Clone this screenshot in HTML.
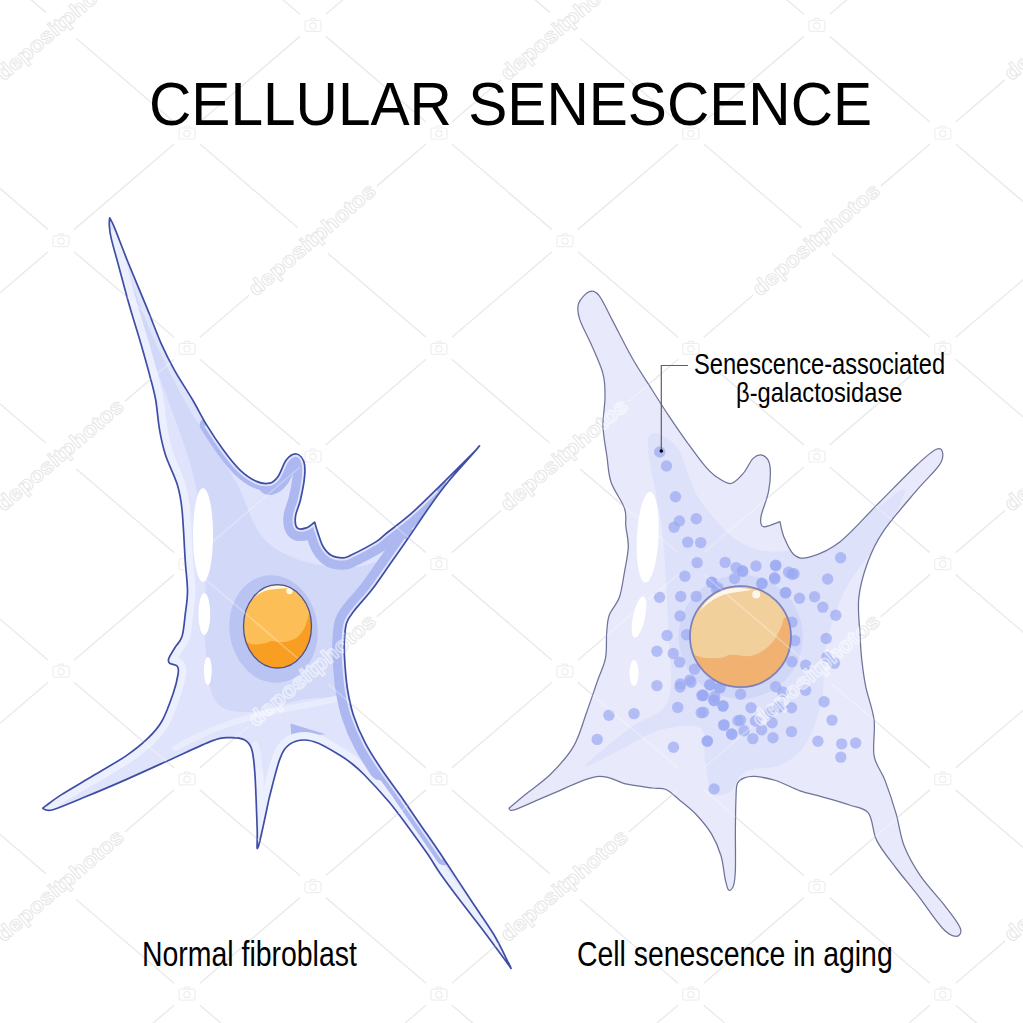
<!DOCTYPE html>
<html><head><meta charset="utf-8"><style>
html,body{margin:0;padding:0;background:#fff;}
body{width:1023px;height:1023px;position:relative;overflow:hidden;font-family:"Liberation Sans",sans-serif;}
.t{position:absolute;white-space:nowrap;color:#000;line-height:1;transform-origin:0 0;}
svg{position:absolute;left:0;top:0;}
</style></head><body>
<svg width="1023" height="1023" viewBox="0 0 1023 1023">
<defs>
<clipPath id="c1"><path d="M109.7,217.8 C110.6,219.6 111.9,221.2 114.9,228.6 C117.9,236.0 122.7,249.0 127.9,262.0 C133.2,275.0 140.8,293.0 146.4,306.6 C152.0,320.2 156.7,333.3 161.3,343.8 C166.0,354.3 169.1,360.4 174.3,369.8 C179.5,379.2 187.3,390.8 192.7,400.0 C198.1,409.2 201.5,416.6 206.6,424.9 C211.7,433.2 217.7,442.3 223.2,449.8 C228.7,457.3 234.2,464.5 239.8,469.8 C245.4,475.1 251.5,479.2 256.5,481.4 C261.5,483.6 266.1,483.9 269.7,483.1 C273.3,482.3 275.3,480.3 278.1,476.4 C280.9,472.5 283.4,463.5 286.4,459.8 C289.4,456.1 293.4,453.7 296.3,454.0 C299.2,454.3 302.4,457.8 303.8,461.5 C305.2,465.2 305.2,470.0 304.6,476.4 C304.1,482.8 302.0,493.1 300.5,499.7 C299.0,506.3 296.1,511.6 295.5,516.3 C294.9,521.0 295.4,526.0 297.2,527.9 C299.0,529.8 303.4,528.9 306.3,527.9 C309.2,526.9 313.2,523.1 314.6,522.1 C315.2,523.9 316.5,528.9 317.9,532.9 C319.3,536.9 320.7,542.5 322.9,546.2 C325.1,549.9 327.9,553.4 331.2,555.3 C334.5,557.2 339.4,557.8 342.8,557.8 C346.2,557.8 345.7,557.7 351.3,555.0 C356.9,552.3 370.6,545.1 376.3,541.6 C382.0,538.1 379.6,538.8 385.4,534.2 C391.1,529.6 402.3,521.3 410.8,513.9 C419.3,506.5 427.7,498.0 436.2,489.7 C444.7,481.4 455.3,470.6 461.7,464.3 C468.1,458.0 471.4,454.7 474.4,451.6 C477.4,448.5 478.6,446.8 479.5,445.9 C477.6,448.1 473.1,453.4 468.0,459.2 C462.9,465.0 455.4,473.0 449.0,480.8 C442.6,488.6 436.9,496.3 429.9,506.2 C422.9,516.1 413.5,530.5 406.9,540.0 C400.3,549.5 396.3,555.1 390.4,563.5 C384.5,571.9 377.6,582.3 371.6,590.1 C365.6,597.9 358.6,604.9 354.4,610.4 C350.2,615.9 348.3,617.7 346.6,622.9 C344.9,628.1 344.6,634.7 344.3,641.7 C344.0,648.8 344.4,657.2 345.0,665.2 C345.6,673.2 346.2,681.6 347.6,690.0 C349.0,698.4 350.6,706.6 353.5,715.4 C356.4,724.2 360.6,734.0 365.2,742.8 C369.8,751.6 374.9,759.4 380.8,768.2 C386.7,777.0 393.5,785.8 400.4,795.6 C407.2,805.4 414.7,816.5 421.9,826.9 C429.1,837.3 435.0,845.6 443.4,858.2 C451.8,870.8 463.9,889.6 472.3,902.3 C480.7,915.0 487.7,924.3 493.8,934.5 C499.9,944.7 505.9,957.9 508.8,963.5 C511.7,969.1 510.6,967.6 511.0,968.4 C509.9,966.9 509.2,965.6 504.5,959.2 C499.8,952.8 490.2,939.7 483.0,930.2 C475.8,920.7 468.7,911.8 461.5,902.3 C454.3,892.8 445.6,881.2 440.0,873.2 C434.4,865.2 433.1,862.0 427.8,854.3 C422.5,846.6 414.7,835.7 408.2,826.9 C401.7,818.1 396.1,810.3 388.7,801.5 C381.2,792.7 369.7,780.3 363.5,774.0 C357.3,767.7 355.6,766.6 351.7,763.5 C347.8,760.4 345.5,758.6 340.0,755.3 C334.5,752.0 324.9,746.0 318.9,743.5 C312.9,741.0 309.1,739.9 304.2,740.0 C299.3,740.1 293.6,741.2 289.5,744.4 C285.4,747.6 283.2,750.1 279.8,759.1 C276.4,768.1 270.9,791.9 269.1,798.4 C267.3,806.5 260.1,842.2 258.1,847.3 C256.1,852.4 257.7,841.0 257.2,829.0 C256.7,817.0 255.9,788.5 255.0,775.3 C254.1,762.0 253.6,755.4 251.8,749.5 C250.0,743.6 248.1,741.8 244.3,739.8 C240.5,737.8 234.6,737.4 229.2,737.6 C223.8,737.8 222.0,737.1 212.0,740.9 C202.0,744.7 183.3,753.8 169.0,760.2 C154.7,766.7 140.3,773.3 126.0,779.6 C111.7,785.9 95.2,792.8 83.0,797.8 C70.8,802.8 59.5,807.9 52.9,809.7 C46.3,811.5 44.3,809.3 43.2,808.6 C42.1,807.9 43.5,807.7 46.5,805.4 C49.5,803.1 53.6,799.6 61.5,794.6 C69.4,789.6 83.0,781.8 93.8,775.3 C104.5,768.8 117.0,762.0 126.0,755.9 C134.9,749.8 141.5,744.5 147.5,738.7 C153.5,732.9 157.7,728.6 162.0,721.0 C166.3,713.4 170.7,700.6 173.4,692.8 C176.1,685.0 177.4,678.4 178.1,674.0 C178.8,669.6 178.7,668.1 177.3,666.3 C175.9,664.5 170.9,664.4 169.5,663.1 C168.1,661.8 167.9,661.0 168.8,658.4 C169.7,655.8 172.8,651.1 175.0,647.5 C177.2,643.9 180.3,642.1 182.0,636.6 C183.7,631.1 184.3,622.2 185.2,614.7 C186.1,607.2 187.5,600.4 187.5,591.3 C187.5,582.2 186.1,573.6 185.2,560.0 C184.3,546.4 183.3,522.1 182.0,509.5 C180.7,496.9 179.9,493.2 177.1,484.1 C174.3,475.0 168.3,463.8 165.4,454.7 C162.5,445.6 161.1,438.4 159.5,429.3 C157.9,420.2 157.2,408.7 155.7,400.0 C154.1,391.3 152.7,386.6 150.2,377.2 C147.7,367.8 144.3,355.6 140.9,343.8 C137.5,332.0 133.4,319.6 129.7,306.6 C126.0,293.6 121.7,277.1 118.6,265.7 C115.5,254.2 112.6,244.7 111.1,237.9 C109.5,231.1 109.5,228.2 109.3,224.9 C109.1,221.6 109.6,219.0 109.7,217.8Z"/></clipPath>
<clipPath id="c2"><path d="M589.3,291.7 C592.7,290.4 595.2,290.7 599.1,295.6 C603.0,300.5 607.3,310.7 612.8,321.1 C618.3,331.5 625.8,346.8 632.3,358.2 C638.8,369.6 645.7,379.7 651.9,389.5 C658.1,399.3 663.6,408.1 669.5,416.9 C675.4,425.7 681.2,434.2 687.1,442.3 C693.0,450.4 700.0,460.1 704.7,465.7 C709.4,471.3 710.9,472.9 715.2,475.9 C719.5,478.9 725.8,483.9 730.5,483.5 C735.2,483.1 739.4,477.6 743.2,473.4 C747.0,469.2 750.0,461.1 753.4,458.1 C756.8,455.1 760.8,454.3 763.5,455.6 C766.2,456.9 769.0,459.8 769.9,465.7 C770.8,471.6 770.1,482.7 768.6,491.2 C767.1,499.7 761.9,510.7 761.0,516.6 C760.1,522.5 760.3,525.9 763.5,526.7 C766.7,527.6 777.2,522.5 780.0,521.7 C780.6,524.2 781.6,531.4 783.9,536.9 C786.2,542.4 789.8,551.3 794.0,554.7 C798.2,558.1 801.7,559.3 809.3,557.2 C816.9,555.1 828.4,550.9 839.8,542.0 C851.2,533.1 865.2,516.6 877.9,503.9 C890.6,491.2 906.3,474.8 916.0,465.7 C925.7,456.6 931.8,451.3 936.3,449.2 C940.8,447.1 942.3,450.2 942.7,453.0 C943.1,455.8 943.4,459.3 938.9,465.7 C934.4,472.1 925.3,480.2 916.0,491.2 C906.7,502.2 891.0,519.9 883.0,531.8 C875.0,543.6 871.7,551.3 867.7,562.3 C863.7,573.3 860.1,585.6 858.8,597.9 C857.5,610.2 859.6,625.6 860.1,636.0 C860.6,646.4 860.8,651.4 861.8,660.0 C862.8,668.6 863.8,677.4 865.9,687.4 C868.0,697.4 872.7,708.8 874.1,720.2 C875.5,731.6 872.3,745.8 874.1,755.8 C875.9,765.8 881.4,770.8 885.0,780.4 C888.6,790.0 892.8,802.3 896.0,813.3 C899.2,824.2 900.1,835.6 904.2,846.1 C908.3,856.6 913.8,866.2 920.6,876.2 C927.5,886.2 938.7,897.6 945.3,906.3 C951.9,915.0 958.5,923.2 960.3,928.2 C962.1,933.2 959.2,936.4 956.2,936.4 C953.2,936.4 948.9,935.0 942.5,928.2 C936.1,921.4 925.6,905.4 917.9,895.4 C910.1,885.4 902.9,877.1 896.0,868.0 C889.1,858.9 881.4,849.7 876.8,840.6 C872.2,831.5 873.1,819.2 868.6,813.3 C864.1,807.4 857.2,807.8 849.5,805.0 C841.8,802.2 830.4,799.2 822.1,796.8 C813.9,794.4 807.7,793.5 800.0,790.8 C792.3,788.1 783.2,782.9 775.8,780.5 C768.3,778.1 760.5,776.9 755.3,776.4 C750.0,775.9 747.3,776.6 744.3,777.8 C741.3,778.9 738.9,780.6 737.5,783.3 C736.1,786.0 736.5,786.7 736.1,794.2 C735.8,801.7 735.5,815.9 735.4,828.4 C735.3,840.9 735.7,859.9 735.4,869.5 C735.1,879.1 734.5,882.5 733.4,885.9 C732.3,889.3 730.0,891.1 728.6,890.0 C727.2,888.9 726.5,884.7 725.2,879.0 C723.9,873.3 723.3,863.3 721.0,855.8 C718.7,848.3 715.6,840.8 711.5,833.9 C707.4,827.0 701.6,820.3 696.4,814.7 C691.1,809.1 685.1,804.6 680.0,800.4 C674.9,796.2 670.6,791.6 666.0,789.5 C661.4,787.4 659.0,788.9 652.5,788.0 C646.0,787.1 636.4,786.1 627.1,784.2 C617.8,782.3 609.3,774.9 596.6,776.6 C583.9,778.3 564.4,788.9 550.8,794.4 C537.2,799.9 522.2,807.3 515.2,809.6 C508.2,811.9 509.9,808.5 508.9,808.3 C511.6,806.0 518.4,800.1 525.4,794.4 C532.4,788.7 542.8,782.0 550.8,774.0 C558.8,766.0 567.8,756.3 573.7,746.1 C579.6,735.9 582.4,724.0 586.4,713.0 C590.4,702.0 594.6,689.1 597.8,680.0 C601.0,670.9 604.0,666.1 605.5,658.2 C607.0,650.3 606.1,640.0 606.7,632.8 C607.3,625.6 607.2,620.9 609.3,615.0 C611.4,609.1 616.9,604.4 619.4,597.2 C621.9,590.0 623.0,580.3 624.5,571.8 C626.0,563.3 628.1,554.0 628.3,546.4 C628.5,538.8 626.4,532.5 625.8,526.1 C625.2,519.8 627.0,515.6 624.5,508.3 C622.0,500.9 613.9,490.7 611.0,482.0 C608.1,473.3 608.2,465.2 606.9,456.0 C605.6,446.8 603.3,436.4 603.0,426.6 C602.7,416.8 605.0,406.1 605.0,397.3 C605.0,388.5 605.3,382.6 603.0,373.8 C600.7,365.0 595.2,353.6 591.3,344.5 C587.4,335.4 581.7,325.9 579.6,319.1 C577.5,312.3 577.0,308.1 578.6,303.5 C580.2,298.9 585.9,293.0 589.3,291.7Z"/></clipPath>
<clipPath id="n1"><ellipse cx="277.5" cy="626.3" rx="34" ry="41.7"/></clipPath>
<clipPath id="n2"><circle cx="740.5" cy="636.6" r="50.5"/></clipPath>
</defs>
<g fill="none" stroke="#eaeaea" stroke-width="1.4"><path d="M-175.7,-177.0L-77.9,-93.3 M-178.0,36.4L-77.9,122.0 M-178.0,14.3L-77.9,-71.3 M-175.7,253.6L-77.9,337.3 M-127.1,186.1L-77.9,144.0 M-178.0,467.0L-77.9,552.6 M-178.0,444.9L-77.9,359.3 M-175.7,684.2L-77.9,767.9 M-127.1,616.7L-77.9,574.6 M-178.0,897.6L-77.9,983.2 M-178.0,875.5L-77.9,789.9 M-175.7,1114.8L-77.9,1198.5 M-127.1,1047.3L-77.9,1005.2 M-52.0,-71.3L45.8,12.4 M-52.0,-93.3L48.1,-178.9 M-52.0,144.0L48.1,229.6 M-52.0,122.0L-2.8,79.9 M-52.0,359.3L45.8,443.0 M-52.0,337.3L48.1,251.7 M-52.0,574.6L48.1,660.2 M-52.0,552.6L-2.8,510.5 M-52.0,789.9L45.8,873.6 M-52.0,767.9L48.1,682.3 M-52.0,1005.2L48.1,1090.8 M-52.0,983.2L-2.8,941.1 M-52.0,1198.5L48.1,1112.9 M74.0,-178.9L174.1,-93.3 M76.2,38.3L174.1,122.0 M124.9,-29.2L174.1,-71.3 M74.0,251.7L174.1,337.3 M74.0,229.6L174.1,144.0 M76.2,468.9L174.1,552.6 M124.9,401.4L174.1,359.3 M74.0,682.3L174.1,767.9 M74.0,660.2L174.1,574.6 M76.2,899.5L174.1,983.2 M124.9,832.0L174.1,789.9 M74.0,1112.9L174.1,1198.5 M74.0,1090.8L174.1,1005.2 M199.9,-71.3L300.0,14.3 M199.9,-93.3L249.1,-135.4 M199.9,144.0L297.8,227.7 M199.9,122.0L300.0,36.4 M199.9,359.3L300.0,444.9 M199.9,337.3L249.1,295.2 M199.9,574.6L297.8,658.3 M199.9,552.6L300.0,467.0 M199.9,789.9L300.0,875.5 M199.9,767.9L249.1,725.8 M199.9,1005.2L297.8,1088.9 M199.9,983.2L300.0,897.6 M199.9,1198.5L249.1,1156.4 M328.2,-177.0L426.0,-93.3 M325.9,36.4L426.0,122.0 M325.9,14.3L426.0,-71.3 M328.2,253.6L426.0,337.3 M376.8,186.1L426.0,144.0 M325.9,467.0L426.0,552.6 M325.9,444.9L426.0,359.3 M328.2,684.2L426.0,767.9 M376.8,616.7L426.0,574.6 M325.9,897.6L426.0,983.2 M325.9,875.5L426.0,789.9 M328.2,1114.8L426.0,1198.5 M376.8,1047.3L426.0,1005.2 M451.9,-71.3L549.7,12.4 M451.9,-93.3L552.0,-178.9 M451.9,144.0L552.0,229.6 M451.9,122.0L501.1,79.9 M451.9,359.3L549.7,443.0 M451.9,337.3L552.0,251.7 M451.9,574.6L552.0,660.2 M451.9,552.6L501.1,510.5 M451.9,789.9L549.7,873.6 M451.9,767.9L552.0,682.3 M451.9,1005.2L552.0,1090.8 M451.9,983.2L501.1,941.1 M451.9,1198.5L552.0,1112.9 M577.8,-178.9L678.0,-93.3 M580.1,38.3L678.0,122.0 M628.8,-29.2L678.0,-71.3 M577.8,251.7L678.0,337.3 M577.8,229.6L678.0,144.0 M580.1,468.9L678.0,552.6 M628.8,401.4L678.0,359.3 M577.8,682.3L678.0,767.9 M577.8,660.2L678.0,574.6 M580.1,899.5L678.0,983.2 M628.8,832.0L678.0,789.9 M577.8,1112.9L678.0,1198.5 M577.8,1090.8L678.0,1005.2 M703.8,-71.3L803.9,14.3 M703.8,-93.3L753.0,-135.4 M703.8,144.0L801.6,227.7 M703.8,122.0L803.9,36.4 M703.8,359.3L803.9,444.9 M703.8,337.3L753.0,295.2 M703.8,574.6L801.6,658.3 M703.8,552.6L803.9,467.0 M703.8,789.9L803.9,875.5 M703.8,767.9L753.0,725.8 M703.8,1005.2L801.6,1088.9 M703.8,983.2L803.9,897.6 M703.8,1198.5L753.0,1156.4 M832.1,-177.0L929.9,-93.3 M829.8,36.4L929.9,122.0 M829.8,14.3L929.9,-71.3 M832.1,253.6L929.9,337.3 M880.7,186.1L929.9,144.0 M829.8,467.0L929.9,552.6 M829.8,444.9L929.9,359.3 M832.1,684.2L929.9,767.9 M880.7,616.7L929.9,574.6 M829.8,897.6L929.9,983.2 M829.8,875.5L929.9,789.9 M832.1,1114.8L929.9,1198.5 M880.7,1047.3L929.9,1005.2 M955.7,-71.3L1053.6,12.4 M955.7,-93.3L1055.9,-178.9 M955.7,144.0L1055.9,229.6 M955.7,122.0L1004.9,79.9 M955.7,359.3L1053.6,443.0 M955.7,337.3L1055.9,251.7 M955.7,574.6L1055.9,660.2 M955.7,552.6L1004.9,510.5 M955.7,789.9L1053.6,873.6 M955.7,767.9L1055.9,682.3 M955.7,1005.2L1055.9,1090.8 M955.7,983.2L1004.9,941.1 M955.7,1198.5L1055.9,1112.9 M1081.7,-178.9L1181.8,-93.3 M1084.0,38.3L1181.8,122.0 M1132.6,-29.2L1181.8,-71.3 M1081.7,251.7L1181.8,337.3 M1081.7,229.6L1181.8,144.0 M1084.0,468.9L1181.8,552.6 M1132.6,401.4L1181.8,359.3 M1081.7,682.3L1181.8,767.9 M1081.7,660.2L1181.8,574.6 M1084.0,899.5L1181.8,983.2 M1132.6,832.0L1181.8,789.9 M1081.7,1112.9L1181.8,1198.5 M1081.7,1090.8L1181.8,1005.2"/></g>
<g fill="none" stroke="#efefef" stroke-width="1.2"><g transform="translate(-64.9,-82.3)"><rect x="-8" y="-5" width="16" height="11" rx="2"/><circle cx="0" cy="0.5" r="3.2"/><path d="M-3,-5 L-2,-7 H2 L3,-5"/></g><g transform="translate(-64.9,133.0)"><rect x="-8" y="-5" width="16" height="11" rx="2"/><circle cx="0" cy="0.5" r="3.2"/><path d="M-3,-5 L-2,-7 H2 L3,-5"/></g><g transform="translate(-64.9,348.3)"><rect x="-8" y="-5" width="16" height="11" rx="2"/><circle cx="0" cy="0.5" r="3.2"/><path d="M-3,-5 L-2,-7 H2 L3,-5"/></g><g transform="translate(-64.9,563.6)"><rect x="-8" y="-5" width="16" height="11" rx="2"/><circle cx="0" cy="0.5" r="3.2"/><path d="M-3,-5 L-2,-7 H2 L3,-5"/></g><g transform="translate(-64.9,778.9)"><rect x="-8" y="-5" width="16" height="11" rx="2"/><circle cx="0" cy="0.5" r="3.2"/><path d="M-3,-5 L-2,-7 H2 L3,-5"/></g><g transform="translate(-64.9,994.2)"><rect x="-8" y="-5" width="16" height="11" rx="2"/><circle cx="0" cy="0.5" r="3.2"/><path d="M-3,-5 L-2,-7 H2 L3,-5"/></g><g transform="translate(61.0,240.7)"><rect x="-8" y="-5" width="16" height="11" rx="2"/><circle cx="0" cy="0.5" r="3.2"/><path d="M-3,-5 L-2,-7 H2 L3,-5"/></g><g transform="translate(61.0,671.2)"><rect x="-8" y="-5" width="16" height="11" rx="2"/><circle cx="0" cy="0.5" r="3.2"/><path d="M-3,-5 L-2,-7 H2 L3,-5"/></g><g transform="translate(61.0,1101.8)"><rect x="-8" y="-5" width="16" height="11" rx="2"/><circle cx="0" cy="0.5" r="3.2"/><path d="M-3,-5 L-2,-7 H2 L3,-5"/></g><g transform="translate(187.0,-82.3)"><rect x="-8" y="-5" width="16" height="11" rx="2"/><circle cx="0" cy="0.5" r="3.2"/><path d="M-3,-5 L-2,-7 H2 L3,-5"/></g><g transform="translate(187.0,133.0)"><rect x="-8" y="-5" width="16" height="11" rx="2"/><circle cx="0" cy="0.5" r="3.2"/><path d="M-3,-5 L-2,-7 H2 L3,-5"/></g><g transform="translate(187.0,348.3)"><rect x="-8" y="-5" width="16" height="11" rx="2"/><circle cx="0" cy="0.5" r="3.2"/><path d="M-3,-5 L-2,-7 H2 L3,-5"/></g><g transform="translate(187.0,563.6)"><rect x="-8" y="-5" width="16" height="11" rx="2"/><circle cx="0" cy="0.5" r="3.2"/><path d="M-3,-5 L-2,-7 H2 L3,-5"/></g><g transform="translate(187.0,778.9)"><rect x="-8" y="-5" width="16" height="11" rx="2"/><circle cx="0" cy="0.5" r="3.2"/><path d="M-3,-5 L-2,-7 H2 L3,-5"/></g><g transform="translate(187.0,994.2)"><rect x="-8" y="-5" width="16" height="11" rx="2"/><circle cx="0" cy="0.5" r="3.2"/><path d="M-3,-5 L-2,-7 H2 L3,-5"/></g><g transform="translate(313.0,25.3)"><rect x="-8" y="-5" width="16" height="11" rx="2"/><circle cx="0" cy="0.5" r="3.2"/><path d="M-3,-5 L-2,-7 H2 L3,-5"/></g><g transform="translate(313.0,456.0)"><rect x="-8" y="-5" width="16" height="11" rx="2"/><circle cx="0" cy="0.5" r="3.2"/><path d="M-3,-5 L-2,-7 H2 L3,-5"/></g><g transform="translate(313.0,886.6)"><rect x="-8" y="-5" width="16" height="11" rx="2"/><circle cx="0" cy="0.5" r="3.2"/><path d="M-3,-5 L-2,-7 H2 L3,-5"/></g><g transform="translate(438.9,-82.3)"><rect x="-8" y="-5" width="16" height="11" rx="2"/><circle cx="0" cy="0.5" r="3.2"/><path d="M-3,-5 L-2,-7 H2 L3,-5"/></g><g transform="translate(438.9,133.0)"><rect x="-8" y="-5" width="16" height="11" rx="2"/><circle cx="0" cy="0.5" r="3.2"/><path d="M-3,-5 L-2,-7 H2 L3,-5"/></g><g transform="translate(438.9,348.3)"><rect x="-8" y="-5" width="16" height="11" rx="2"/><circle cx="0" cy="0.5" r="3.2"/><path d="M-3,-5 L-2,-7 H2 L3,-5"/></g><g transform="translate(438.9,563.6)"><rect x="-8" y="-5" width="16" height="11" rx="2"/><circle cx="0" cy="0.5" r="3.2"/><path d="M-3,-5 L-2,-7 H2 L3,-5"/></g><g transform="translate(438.9,778.9)"><rect x="-8" y="-5" width="16" height="11" rx="2"/><circle cx="0" cy="0.5" r="3.2"/><path d="M-3,-5 L-2,-7 H2 L3,-5"/></g><g transform="translate(438.9,994.2)"><rect x="-8" y="-5" width="16" height="11" rx="2"/><circle cx="0" cy="0.5" r="3.2"/><path d="M-3,-5 L-2,-7 H2 L3,-5"/></g><g transform="translate(564.9,240.7)"><rect x="-8" y="-5" width="16" height="11" rx="2"/><circle cx="0" cy="0.5" r="3.2"/><path d="M-3,-5 L-2,-7 H2 L3,-5"/></g><g transform="translate(564.9,671.2)"><rect x="-8" y="-5" width="16" height="11" rx="2"/><circle cx="0" cy="0.5" r="3.2"/><path d="M-3,-5 L-2,-7 H2 L3,-5"/></g><g transform="translate(564.9,1101.8)"><rect x="-8" y="-5" width="16" height="11" rx="2"/><circle cx="0" cy="0.5" r="3.2"/><path d="M-3,-5 L-2,-7 H2 L3,-5"/></g><g transform="translate(690.9,-82.3)"><rect x="-8" y="-5" width="16" height="11" rx="2"/><circle cx="0" cy="0.5" r="3.2"/><path d="M-3,-5 L-2,-7 H2 L3,-5"/></g><g transform="translate(690.9,133.0)"><rect x="-8" y="-5" width="16" height="11" rx="2"/><circle cx="0" cy="0.5" r="3.2"/><path d="M-3,-5 L-2,-7 H2 L3,-5"/></g><g transform="translate(690.9,348.3)"><rect x="-8" y="-5" width="16" height="11" rx="2"/><circle cx="0" cy="0.5" r="3.2"/><path d="M-3,-5 L-2,-7 H2 L3,-5"/></g><g transform="translate(690.9,563.6)"><rect x="-8" y="-5" width="16" height="11" rx="2"/><circle cx="0" cy="0.5" r="3.2"/><path d="M-3,-5 L-2,-7 H2 L3,-5"/></g><g transform="translate(690.9,778.9)"><rect x="-8" y="-5" width="16" height="11" rx="2"/><circle cx="0" cy="0.5" r="3.2"/><path d="M-3,-5 L-2,-7 H2 L3,-5"/></g><g transform="translate(690.9,994.2)"><rect x="-8" y="-5" width="16" height="11" rx="2"/><circle cx="0" cy="0.5" r="3.2"/><path d="M-3,-5 L-2,-7 H2 L3,-5"/></g><g transform="translate(816.9,25.3)"><rect x="-8" y="-5" width="16" height="11" rx="2"/><circle cx="0" cy="0.5" r="3.2"/><path d="M-3,-5 L-2,-7 H2 L3,-5"/></g><g transform="translate(816.9,456.0)"><rect x="-8" y="-5" width="16" height="11" rx="2"/><circle cx="0" cy="0.5" r="3.2"/><path d="M-3,-5 L-2,-7 H2 L3,-5"/></g><g transform="translate(816.9,886.6)"><rect x="-8" y="-5" width="16" height="11" rx="2"/><circle cx="0" cy="0.5" r="3.2"/><path d="M-3,-5 L-2,-7 H2 L3,-5"/></g><g transform="translate(942.8,-82.3)"><rect x="-8" y="-5" width="16" height="11" rx="2"/><circle cx="0" cy="0.5" r="3.2"/><path d="M-3,-5 L-2,-7 H2 L3,-5"/></g><g transform="translate(942.8,133.0)"><rect x="-8" y="-5" width="16" height="11" rx="2"/><circle cx="0" cy="0.5" r="3.2"/><path d="M-3,-5 L-2,-7 H2 L3,-5"/></g><g transform="translate(942.8,348.3)"><rect x="-8" y="-5" width="16" height="11" rx="2"/><circle cx="0" cy="0.5" r="3.2"/><path d="M-3,-5 L-2,-7 H2 L3,-5"/></g><g transform="translate(942.8,563.6)"><rect x="-8" y="-5" width="16" height="11" rx="2"/><circle cx="0" cy="0.5" r="3.2"/><path d="M-3,-5 L-2,-7 H2 L3,-5"/></g><g transform="translate(942.8,778.9)"><rect x="-8" y="-5" width="16" height="11" rx="2"/><circle cx="0" cy="0.5" r="3.2"/><path d="M-3,-5 L-2,-7 H2 L3,-5"/></g><g transform="translate(942.8,994.2)"><rect x="-8" y="-5" width="16" height="11" rx="2"/><circle cx="0" cy="0.5" r="3.2"/><path d="M-3,-5 L-2,-7 H2 L3,-5"/></g><g transform="translate(1068.8,240.7)"><rect x="-8" y="-5" width="16" height="11" rx="2"/><circle cx="0" cy="0.5" r="3.2"/><path d="M-3,-5 L-2,-7 H2 L3,-5"/></g><g transform="translate(1068.8,671.2)"><rect x="-8" y="-5" width="16" height="11" rx="2"/><circle cx="0" cy="0.5" r="3.2"/><path d="M-3,-5 L-2,-7 H2 L3,-5"/></g><g transform="translate(1068.8,1101.8)"><rect x="-8" y="-5" width="16" height="11" rx="2"/><circle cx="0" cy="0.5" r="3.2"/><path d="M-3,-5 L-2,-7 H2 L3,-5"/></g></g>
<g fill="none" stroke="#e6e6e6" stroke-width="0.9" font-family="Liberation Sans" font-size="21" font-weight="bold"><text x="0" y="0" transform="translate(61.0,25.3) rotate(-40.52)" text-anchor="middle" dominant-baseline="middle" textLength="160" lengthAdjust="spacingAndGlyphs">depositphotos</text><text x="0" y="0" transform="translate(61.0,456.0) rotate(-40.52)" text-anchor="middle" dominant-baseline="middle" textLength="160" lengthAdjust="spacingAndGlyphs">depositphotos</text><text x="0" y="0" transform="translate(61.0,886.6) rotate(-40.52)" text-anchor="middle" dominant-baseline="middle" textLength="160" lengthAdjust="spacingAndGlyphs">depositphotos</text><text x="0" y="0" transform="translate(313.0,240.7) rotate(-40.52)" text-anchor="middle" dominant-baseline="middle" textLength="160" lengthAdjust="spacingAndGlyphs">depositphotos</text><text x="0" y="0" transform="translate(313.0,671.2) rotate(-40.52)" text-anchor="middle" dominant-baseline="middle" textLength="160" lengthAdjust="spacingAndGlyphs">depositphotos</text><text x="0" y="0" transform="translate(313.0,1101.8) rotate(-40.52)" text-anchor="middle" dominant-baseline="middle" textLength="160" lengthAdjust="spacingAndGlyphs">depositphotos</text><text x="0" y="0" transform="translate(564.9,25.3) rotate(-40.52)" text-anchor="middle" dominant-baseline="middle" textLength="160" lengthAdjust="spacingAndGlyphs">depositphotos</text><text x="0" y="0" transform="translate(564.9,456.0) rotate(-40.52)" text-anchor="middle" dominant-baseline="middle" textLength="160" lengthAdjust="spacingAndGlyphs">depositphotos</text><text x="0" y="0" transform="translate(564.9,886.6) rotate(-40.52)" text-anchor="middle" dominant-baseline="middle" textLength="160" lengthAdjust="spacingAndGlyphs">depositphotos</text><text x="0" y="0" transform="translate(816.9,240.7) rotate(-40.52)" text-anchor="middle" dominant-baseline="middle" textLength="160" lengthAdjust="spacingAndGlyphs">depositphotos</text><text x="0" y="0" transform="translate(816.9,671.2) rotate(-40.52)" text-anchor="middle" dominant-baseline="middle" textLength="160" lengthAdjust="spacingAndGlyphs">depositphotos</text><text x="0" y="0" transform="translate(816.9,1101.8) rotate(-40.52)" text-anchor="middle" dominant-baseline="middle" textLength="160" lengthAdjust="spacingAndGlyphs">depositphotos</text><text x="0" y="0" transform="translate(1068.8,25.3) rotate(-40.52)" text-anchor="middle" dominant-baseline="middle" textLength="160" lengthAdjust="spacingAndGlyphs">depositphotos</text><text x="0" y="0" transform="translate(1068.8,456.0) rotate(-40.52)" text-anchor="middle" dominant-baseline="middle" textLength="160" lengthAdjust="spacingAndGlyphs">depositphotos</text><text x="0" y="0" transform="translate(1068.8,886.6) rotate(-40.52)" text-anchor="middle" dominant-baseline="middle" textLength="160" lengthAdjust="spacingAndGlyphs">depositphotos</text></g>
<!-- normal cell -->
<path d="M109.7,217.8 C110.6,219.6 111.9,221.2 114.9,228.6 C117.9,236.0 122.7,249.0 127.9,262.0 C133.2,275.0 140.8,293.0 146.4,306.6 C152.0,320.2 156.7,333.3 161.3,343.8 C166.0,354.3 169.1,360.4 174.3,369.8 C179.5,379.2 187.3,390.8 192.7,400.0 C198.1,409.2 201.5,416.6 206.6,424.9 C211.7,433.2 217.7,442.3 223.2,449.8 C228.7,457.3 234.2,464.5 239.8,469.8 C245.4,475.1 251.5,479.2 256.5,481.4 C261.5,483.6 266.1,483.9 269.7,483.1 C273.3,482.3 275.3,480.3 278.1,476.4 C280.9,472.5 283.4,463.5 286.4,459.8 C289.4,456.1 293.4,453.7 296.3,454.0 C299.2,454.3 302.4,457.8 303.8,461.5 C305.2,465.2 305.2,470.0 304.6,476.4 C304.1,482.8 302.0,493.1 300.5,499.7 C299.0,506.3 296.1,511.6 295.5,516.3 C294.9,521.0 295.4,526.0 297.2,527.9 C299.0,529.8 303.4,528.9 306.3,527.9 C309.2,526.9 313.2,523.1 314.6,522.1 C315.2,523.9 316.5,528.9 317.9,532.9 C319.3,536.9 320.7,542.5 322.9,546.2 C325.1,549.9 327.9,553.4 331.2,555.3 C334.5,557.2 339.4,557.8 342.8,557.8 C346.2,557.8 345.7,557.7 351.3,555.0 C356.9,552.3 370.6,545.1 376.3,541.6 C382.0,538.1 379.6,538.8 385.4,534.2 C391.1,529.6 402.3,521.3 410.8,513.9 C419.3,506.5 427.7,498.0 436.2,489.7 C444.7,481.4 455.3,470.6 461.7,464.3 C468.1,458.0 471.4,454.7 474.4,451.6 C477.4,448.5 478.6,446.8 479.5,445.9 C477.6,448.1 473.1,453.4 468.0,459.2 C462.9,465.0 455.4,473.0 449.0,480.8 C442.6,488.6 436.9,496.3 429.9,506.2 C422.9,516.1 413.5,530.5 406.9,540.0 C400.3,549.5 396.3,555.1 390.4,563.5 C384.5,571.9 377.6,582.3 371.6,590.1 C365.6,597.9 358.6,604.9 354.4,610.4 C350.2,615.9 348.3,617.7 346.6,622.9 C344.9,628.1 344.6,634.7 344.3,641.7 C344.0,648.8 344.4,657.2 345.0,665.2 C345.6,673.2 346.2,681.6 347.6,690.0 C349.0,698.4 350.6,706.6 353.5,715.4 C356.4,724.2 360.6,734.0 365.2,742.8 C369.8,751.6 374.9,759.4 380.8,768.2 C386.7,777.0 393.5,785.8 400.4,795.6 C407.2,805.4 414.7,816.5 421.9,826.9 C429.1,837.3 435.0,845.6 443.4,858.2 C451.8,870.8 463.9,889.6 472.3,902.3 C480.7,915.0 487.7,924.3 493.8,934.5 C499.9,944.7 505.9,957.9 508.8,963.5 C511.7,969.1 510.6,967.6 511.0,968.4 C509.9,966.9 509.2,965.6 504.5,959.2 C499.8,952.8 490.2,939.7 483.0,930.2 C475.8,920.7 468.7,911.8 461.5,902.3 C454.3,892.8 445.6,881.2 440.0,873.2 C434.4,865.2 433.1,862.0 427.8,854.3 C422.5,846.6 414.7,835.7 408.2,826.9 C401.7,818.1 396.1,810.3 388.7,801.5 C381.2,792.7 369.7,780.3 363.5,774.0 C357.3,767.7 355.6,766.6 351.7,763.5 C347.8,760.4 345.5,758.6 340.0,755.3 C334.5,752.0 324.9,746.0 318.9,743.5 C312.9,741.0 309.1,739.9 304.2,740.0 C299.3,740.1 293.6,741.2 289.5,744.4 C285.4,747.6 283.2,750.1 279.8,759.1 C276.4,768.1 270.9,791.9 269.1,798.4 C267.3,806.5 260.1,842.2 258.1,847.3 C256.1,852.4 257.7,841.0 257.2,829.0 C256.7,817.0 255.9,788.5 255.0,775.3 C254.1,762.0 253.6,755.4 251.8,749.5 C250.0,743.6 248.1,741.8 244.3,739.8 C240.5,737.8 234.6,737.4 229.2,737.6 C223.8,737.8 222.0,737.1 212.0,740.9 C202.0,744.7 183.3,753.8 169.0,760.2 C154.7,766.7 140.3,773.3 126.0,779.6 C111.7,785.9 95.2,792.8 83.0,797.8 C70.8,802.8 59.5,807.9 52.9,809.7 C46.3,811.5 44.3,809.3 43.2,808.6 C42.1,807.9 43.5,807.7 46.5,805.4 C49.5,803.1 53.6,799.6 61.5,794.6 C69.4,789.6 83.0,781.8 93.8,775.3 C104.5,768.8 117.0,762.0 126.0,755.9 C134.9,749.8 141.5,744.5 147.5,738.7 C153.5,732.9 157.7,728.6 162.0,721.0 C166.3,713.4 170.7,700.6 173.4,692.8 C176.1,685.0 177.4,678.4 178.1,674.0 C178.8,669.6 178.7,668.1 177.3,666.3 C175.9,664.5 170.9,664.4 169.5,663.1 C168.1,661.8 167.9,661.0 168.8,658.4 C169.7,655.8 172.8,651.1 175.0,647.5 C177.2,643.9 180.3,642.1 182.0,636.6 C183.7,631.1 184.3,622.2 185.2,614.7 C186.1,607.2 187.5,600.4 187.5,591.3 C187.5,582.2 186.1,573.6 185.2,560.0 C184.3,546.4 183.3,522.1 182.0,509.5 C180.7,496.9 179.9,493.2 177.1,484.1 C174.3,475.0 168.3,463.8 165.4,454.7 C162.5,445.6 161.1,438.4 159.5,429.3 C157.9,420.2 157.2,408.7 155.7,400.0 C154.1,391.3 152.7,386.6 150.2,377.2 C147.7,367.8 144.3,355.6 140.9,343.8 C137.5,332.0 133.4,319.6 129.7,306.6 C126.0,293.6 121.7,277.1 118.6,265.7 C115.5,254.2 112.6,244.7 111.1,237.9 C109.5,231.1 109.5,228.2 109.3,224.9 C109.1,221.6 109.6,219.0 109.7,217.8Z" fill="#dfe3fb"/>
<g clip-path="url(#c1)">
<path d="M118.0,245.0 C118.0,241.7 138.0,302.5 150.0,330.0 C162.0,357.5 175.8,385.0 190.0,410.0 C204.2,435.0 222.5,458.3 235.0,480.0 C247.5,501.7 250.8,525.8 265.0,540.0 C279.2,554.2 300.8,561.7 320.0,565.0 C339.2,568.3 360.0,570.0 380.0,560.0 C400.0,550.0 438.3,501.7 440.0,505.0 C441.7,508.3 405.0,557.5 390.0,580.0 C375.0,602.5 357.0,621.7 350.0,640.0 C343.0,658.3 356.3,680.0 348.0,690.0 C339.7,700.0 316.3,696.3 300.0,700.0 C283.7,703.7 264.2,712.0 250.0,712.0 C235.8,712.0 222.5,712.0 215.0,700.0 C207.5,688.0 206.7,663.3 205.0,640.0 C203.3,616.7 207.2,588.3 205.0,560.0 C202.8,531.7 201.2,505.0 192.0,470.0 C182.8,435.0 162.3,387.5 150.0,350.0 C137.7,312.5 118.0,248.3 118.0,245.0Z" fill="#d2d8f8"/>
<path d="M175,748 C210,728 250,716 280,710 C300,706 325,702 345,697" fill="none" stroke="#e9ecfd" stroke-width="6" stroke-linecap="round"/>
<path d="M255,745 C262,770 262,800 259,840" fill="none" stroke="#e9ecfd" stroke-width="7" stroke-linecap="round"/>
<path d="M290.5,723.5 L325.6,734.3 L291.4,736.2Z" fill="#aeb8f0"/>
<path d="M504.5,959.2 C499.8,952.8 490.2,939.7 483.0,930.2 C475.8,920.7 468.7,911.8 461.5,902.3 C454.3,892.8 445.6,881.2 440.0,873.2 C434.4,865.2 433.1,862.0 427.8,854.3 C422.5,846.6 414.7,835.7 408.2,826.9 C401.7,818.1 396.1,810.3 388.7,801.5 C381.2,792.7 369.7,780.3 363.5,774.0 C357.3,767.7 355.6,766.6 351.7,763.5 C347.8,760.4 345.5,758.6 340.0,755.3 C334.5,752.0 324.9,746.0 318.9,743.5 C312.9,741.0 309.1,739.9 304.2,740.0 C299.3,740.1 293.6,741.2 289.5,744.4 C285.4,747.6 283.2,750.1 279.8,759.1 C276.4,768.1 270.9,791.9 269.1,798.4 C267.3,806.5 260.1,842.2 258.1,847.3 C256.1,852.4 257.7,841.0 257.2,829.0 C256.7,817.0 255.9,788.5 255.0,775.3 M43.2,808.6 C42.1,807.9 43.5,807.7 46.5,805.4 C49.5,803.1 53.6,799.6 61.5,794.6 C69.4,789.6 83.0,781.8 93.8,775.3 C104.5,768.8 117.0,762.0 126.0,755.9 C134.9,749.8 141.5,744.5 147.5,738.7 C153.5,732.9 157.7,728.6 162.0,721.0 C166.3,713.4 170.7,700.6 173.4,692.8 C176.1,685.0 177.4,678.4 178.1,674.0 C178.8,669.6 178.7,668.1 177.3,666.3 C175.9,664.5 170.9,664.4 169.5,663.1 C168.1,661.8 167.9,661.0 168.8,658.4 C169.7,655.8 172.8,651.1 175.0,647.5 C177.2,643.9 180.3,642.1 182.0,636.6 C183.7,631.1 184.3,622.2 185.2,614.7 C186.1,607.2 187.5,600.4 187.5,591.3 C187.5,582.2 186.1,573.6 185.2,560.0 C184.3,546.4 183.3,522.1 182.0,509.5 C180.7,496.9 179.9,493.2 177.1,484.1 C174.3,475.0 168.3,463.8 165.4,454.7 C162.5,445.6 161.1,438.4 159.5,429.3 C157.9,420.2 157.2,408.7 155.7,400.0 C154.1,391.3 152.7,386.6 150.2,377.2 C147.7,367.8 144.3,355.6 140.9,343.8 C137.5,332.0 133.4,319.6 129.7,306.6 C126.0,293.6 121.7,277.1 118.6,265.7 C115.5,254.2 112.6,244.7 111.1,237.9" fill="none" stroke="#eceffd" stroke-width="16" stroke-linejoin="round" stroke-linecap="round"/>
<path d="M269.7,483.1 C273.3,482.3 275.3,480.3 278.1,476.4 C280.9,472.5 283.4,463.5 286.4,459.8 C289.4,456.1 293.4,453.7 296.3,454.0 C299.2,454.3 302.4,457.8 303.8,461.5 C305.2,465.2 305.2,470.0 304.6,476.4 C304.1,482.8 302.0,493.1 300.5,499.7 C299.0,506.3 296.1,511.6 295.5,516.3 C294.9,521.0 295.4,526.0 297.2,527.9 C299.0,529.8 303.4,528.9 306.3,527.9 C309.2,526.9 313.2,523.1 314.6,522.1 C315.2,523.9 316.5,528.9 317.9,532.9 C319.3,536.9 320.7,542.5 322.9,546.2 C325.1,549.9 327.9,553.4 331.2,555.3 C334.5,557.2 339.4,557.8 342.8,557.8 C346.2,557.8 345.7,557.7 351.3,555.0 C356.9,552.3 370.6,545.1 376.3,541.6 C382.0,538.1 379.6,538.8 385.4,534.2 C391.1,529.6 402.3,521.3 410.8,513.9 C419.3,506.5 427.7,498.0 436.2,489.7 M406.9,540.0 C400.3,549.5 396.3,555.1 390.4,563.5 C384.5,571.9 377.6,582.3 371.6,590.1 C365.6,597.9 358.6,604.9 354.4,610.4 C350.2,615.9 348.3,617.7 346.6,622.9 C344.9,628.1 344.6,634.7 344.3,641.7 C344.0,648.8 344.4,657.2 345.0,665.2 C345.6,673.2 346.2,681.6 347.6,690.0 C349.0,698.4 350.6,706.6 353.5,715.4 C356.4,724.2 360.6,734.0 365.2,742.8 C369.8,751.6 374.9,759.4 380.8,768.2" fill="none" stroke="#adb7f0" stroke-width="24" stroke-linejoin="round" stroke-linecap="round"/>
<path d="M365.2,742.8 C369.8,751.6 374.9,759.4 380.8,768.2 C386.7,777.0 393.5,785.8 400.4,795.6 C407.2,805.4 414.7,816.5 421.9,826.9 C429.1,837.3 435.0,845.6 443.4,858.2 M206.6,424.9 C211.7,433.2 217.7,442.3 223.2,449.8 C228.7,457.3 234.2,464.5 239.8,469.8 C245.4,475.1 251.5,479.2 256.5,481.4 C261.5,483.6 266.1,483.9 269.7,483.1 C273.3,482.3 275.3,480.3 278.1,476.4" fill="none" stroke="#adb7f0" stroke-width="14" stroke-linejoin="round" stroke-linecap="round"/>
<path d="M269.7,483.1 C273.3,482.3 275.3,480.3 278.1,476.4 C280.9,472.5 283.4,463.5 286.4,459.8 C289.4,456.1 293.4,453.7 296.3,454.0 C299.2,454.3 302.4,457.8 303.8,461.5 C305.2,465.2 305.2,470.0 304.6,476.4 C304.1,482.8 302.0,493.1 300.5,499.7 C299.0,506.3 296.1,511.6 295.5,516.3 C294.9,521.0 295.4,526.0 297.2,527.9 C299.0,529.8 303.4,528.9 306.3,527.9 C309.2,526.9 313.2,523.1 314.6,522.1 C315.2,523.9 316.5,528.9 317.9,532.9 C319.3,536.9 320.7,542.5 322.9,546.2 C325.1,549.9 327.9,553.4 331.2,555.3 C334.5,557.2 339.4,557.8 342.8,557.8 C346.2,557.8 345.7,557.7 351.3,555.0 C356.9,552.3 370.6,545.1 376.3,541.6 C382.0,538.1 379.6,538.8 385.4,534.2 C391.1,529.6 402.3,521.3 410.8,513.9 C419.3,506.5 427.7,498.0 436.2,489.7 M406.9,540.0 C400.3,549.5 396.3,555.1 390.4,563.5 C384.5,571.9 377.6,582.3 371.6,590.1 C365.6,597.9 358.6,604.9 354.4,610.4 C350.2,615.9 348.3,617.7 346.6,622.9 C344.9,628.1 344.6,634.7 344.3,641.7 C344.0,648.8 344.4,657.2 345.0,665.2 C345.6,673.2 346.2,681.6 347.6,690.0 C349.0,698.4 350.6,706.6 353.5,715.4 C356.4,724.2 360.6,734.0 365.2,742.8 C369.8,751.6 374.9,759.4 380.8,768.2" fill="none" stroke="#dfe3fb" stroke-width="5.5" stroke-linejoin="round"/>
<path d="M365.2,742.8 C369.8,751.6 374.9,759.4 380.8,768.2 C386.7,777.0 393.5,785.8 400.4,795.6 C407.2,805.4 414.7,816.5 421.9,826.9 C429.1,837.3 435.0,845.6 443.4,858.2 M206.6,424.9 C211.7,433.2 217.7,442.3 223.2,449.8 C228.7,457.3 234.2,464.5 239.8,469.8 C245.4,475.1 251.5,479.2 256.5,481.4 C261.5,483.6 266.1,483.9 269.7,483.1 C273.3,482.3 275.3,480.3 278.1,476.4" fill="none" stroke="#dfe3fb" stroke-width="5.5" stroke-linejoin="round"/>
<ellipse cx="273.5" cy="629" rx="44" ry="54" fill="#bac4f3" transform="rotate(-8 273.5 629)"/>
<ellipse cx="203" cy="535" rx="10" ry="47" fill="#fff"/>
<ellipse cx="204.3" cy="614" rx="5.9" ry="21" fill="#fff"/>
<ellipse cx="207.8" cy="671" rx="3.9" ry="14" fill="#fff"/>
</g>
<path d="M109.7,217.8 C110.6,219.6 111.9,221.2 114.9,228.6 C117.9,236.0 122.7,249.0 127.9,262.0 C133.2,275.0 140.8,293.0 146.4,306.6 C152.0,320.2 156.7,333.3 161.3,343.8 C166.0,354.3 169.1,360.4 174.3,369.8 C179.5,379.2 187.3,390.8 192.7,400.0 C198.1,409.2 201.5,416.6 206.6,424.9 C211.7,433.2 217.7,442.3 223.2,449.8 C228.7,457.3 234.2,464.5 239.8,469.8 C245.4,475.1 251.5,479.2 256.5,481.4 C261.5,483.6 266.1,483.9 269.7,483.1 C273.3,482.3 275.3,480.3 278.1,476.4 C280.9,472.5 283.4,463.5 286.4,459.8 C289.4,456.1 293.4,453.7 296.3,454.0 C299.2,454.3 302.4,457.8 303.8,461.5 C305.2,465.2 305.2,470.0 304.6,476.4 C304.1,482.8 302.0,493.1 300.5,499.7 C299.0,506.3 296.1,511.6 295.5,516.3 C294.9,521.0 295.4,526.0 297.2,527.9 C299.0,529.8 303.4,528.9 306.3,527.9 C309.2,526.9 313.2,523.1 314.6,522.1 C315.2,523.9 316.5,528.9 317.9,532.9 C319.3,536.9 320.7,542.5 322.9,546.2 C325.1,549.9 327.9,553.4 331.2,555.3 C334.5,557.2 339.4,557.8 342.8,557.8 C346.2,557.8 345.7,557.7 351.3,555.0 C356.9,552.3 370.6,545.1 376.3,541.6 C382.0,538.1 379.6,538.8 385.4,534.2 C391.1,529.6 402.3,521.3 410.8,513.9 C419.3,506.5 427.7,498.0 436.2,489.7 C444.7,481.4 455.3,470.6 461.7,464.3 C468.1,458.0 471.4,454.7 474.4,451.6 C477.4,448.5 478.6,446.8 479.5,445.9 C477.6,448.1 473.1,453.4 468.0,459.2 C462.9,465.0 455.4,473.0 449.0,480.8 C442.6,488.6 436.9,496.3 429.9,506.2 C422.9,516.1 413.5,530.5 406.9,540.0 C400.3,549.5 396.3,555.1 390.4,563.5 C384.5,571.9 377.6,582.3 371.6,590.1 C365.6,597.9 358.6,604.9 354.4,610.4 C350.2,615.9 348.3,617.7 346.6,622.9 C344.9,628.1 344.6,634.7 344.3,641.7 C344.0,648.8 344.4,657.2 345.0,665.2 C345.6,673.2 346.2,681.6 347.6,690.0 C349.0,698.4 350.6,706.6 353.5,715.4 C356.4,724.2 360.6,734.0 365.2,742.8 C369.8,751.6 374.9,759.4 380.8,768.2 C386.7,777.0 393.5,785.8 400.4,795.6 C407.2,805.4 414.7,816.5 421.9,826.9 C429.1,837.3 435.0,845.6 443.4,858.2 C451.8,870.8 463.9,889.6 472.3,902.3 C480.7,915.0 487.7,924.3 493.8,934.5 C499.9,944.7 505.9,957.9 508.8,963.5 C511.7,969.1 510.6,967.6 511.0,968.4 C509.9,966.9 509.2,965.6 504.5,959.2 C499.8,952.8 490.2,939.7 483.0,930.2 C475.8,920.7 468.7,911.8 461.5,902.3 C454.3,892.8 445.6,881.2 440.0,873.2 C434.4,865.2 433.1,862.0 427.8,854.3 C422.5,846.6 414.7,835.7 408.2,826.9 C401.7,818.1 396.1,810.3 388.7,801.5 C381.2,792.7 369.7,780.3 363.5,774.0 C357.3,767.7 355.6,766.6 351.7,763.5 C347.8,760.4 345.5,758.6 340.0,755.3 C334.5,752.0 324.9,746.0 318.9,743.5 C312.9,741.0 309.1,739.9 304.2,740.0 C299.3,740.1 293.6,741.2 289.5,744.4 C285.4,747.6 283.2,750.1 279.8,759.1 C276.4,768.1 270.9,791.9 269.1,798.4 C267.3,806.5 260.1,842.2 258.1,847.3 C256.1,852.4 257.7,841.0 257.2,829.0 C256.7,817.0 255.9,788.5 255.0,775.3 C254.1,762.0 253.6,755.4 251.8,749.5 C250.0,743.6 248.1,741.8 244.3,739.8 C240.5,737.8 234.6,737.4 229.2,737.6 C223.8,737.8 222.0,737.1 212.0,740.9 C202.0,744.7 183.3,753.8 169.0,760.2 C154.7,766.7 140.3,773.3 126.0,779.6 C111.7,785.9 95.2,792.8 83.0,797.8 C70.8,802.8 59.5,807.9 52.9,809.7 C46.3,811.5 44.3,809.3 43.2,808.6 C42.1,807.9 43.5,807.7 46.5,805.4 C49.5,803.1 53.6,799.6 61.5,794.6 C69.4,789.6 83.0,781.8 93.8,775.3 C104.5,768.8 117.0,762.0 126.0,755.9 C134.9,749.8 141.5,744.5 147.5,738.7 C153.5,732.9 157.7,728.6 162.0,721.0 C166.3,713.4 170.7,700.6 173.4,692.8 C176.1,685.0 177.4,678.4 178.1,674.0 C178.8,669.6 178.7,668.1 177.3,666.3 C175.9,664.5 170.9,664.4 169.5,663.1 C168.1,661.8 167.9,661.0 168.8,658.4 C169.7,655.8 172.8,651.1 175.0,647.5 C177.2,643.9 180.3,642.1 182.0,636.6 C183.7,631.1 184.3,622.2 185.2,614.7 C186.1,607.2 187.5,600.4 187.5,591.3 C187.5,582.2 186.1,573.6 185.2,560.0 C184.3,546.4 183.3,522.1 182.0,509.5 C180.7,496.9 179.9,493.2 177.1,484.1 C174.3,475.0 168.3,463.8 165.4,454.7 C162.5,445.6 161.1,438.4 159.5,429.3 C157.9,420.2 157.2,408.7 155.7,400.0 C154.1,391.3 152.7,386.6 150.2,377.2 C147.7,367.8 144.3,355.6 140.9,343.8 C137.5,332.0 133.4,319.6 129.7,306.6 C126.0,293.6 121.7,277.1 118.6,265.7 C115.5,254.2 112.6,244.7 111.1,237.9 C109.5,231.1 109.5,228.2 109.3,224.9 C109.1,221.6 109.6,219.0 109.7,217.8Z" fill="none" stroke="#3e4ea4" stroke-width="1.7" stroke-linejoin="round"/>
<ellipse cx="277.5" cy="626.3" rx="34" ry="41.7" fill="#fcbf57"/>
<g clip-path="url(#n1)">
<path d="M240,638 C243,640 250,645 255.2,644.5 C260,644 266,644 270.4,640.9 C276,641 280,642.5 284.5,642.1 C292,641 297,638 299.8,635.1 C304,630 306,625 306.8,621 C308,618 309,616 311,605 L320,600 V680 H240Z" fill="#f89e22"/>
<path d="M249,602 C255,592 263,587 273,586 C280,585 286,586 290,588 C283,588 276,589 268,590 C260,592 254,597 249,602Z" fill="#fff8e0"/>
<circle cx="289.5" cy="591" r="3.3" fill="#fff8e0"/>
</g>
<ellipse cx="277.5" cy="626.3" rx="34" ry="41.7" fill="none" stroke="#55508a" stroke-width="1.3"/>
<!-- senescent cell -->
<path d="M589.3,291.7 C592.7,290.4 595.2,290.7 599.1,295.6 C603.0,300.5 607.3,310.7 612.8,321.1 C618.3,331.5 625.8,346.8 632.3,358.2 C638.8,369.6 645.7,379.7 651.9,389.5 C658.1,399.3 663.6,408.1 669.5,416.9 C675.4,425.7 681.2,434.2 687.1,442.3 C693.0,450.4 700.0,460.1 704.7,465.7 C709.4,471.3 710.9,472.9 715.2,475.9 C719.5,478.9 725.8,483.9 730.5,483.5 C735.2,483.1 739.4,477.6 743.2,473.4 C747.0,469.2 750.0,461.1 753.4,458.1 C756.8,455.1 760.8,454.3 763.5,455.6 C766.2,456.9 769.0,459.8 769.9,465.7 C770.8,471.6 770.1,482.7 768.6,491.2 C767.1,499.7 761.9,510.7 761.0,516.6 C760.1,522.5 760.3,525.9 763.5,526.7 C766.7,527.6 777.2,522.5 780.0,521.7 C780.6,524.2 781.6,531.4 783.9,536.9 C786.2,542.4 789.8,551.3 794.0,554.7 C798.2,558.1 801.7,559.3 809.3,557.2 C816.9,555.1 828.4,550.9 839.8,542.0 C851.2,533.1 865.2,516.6 877.9,503.9 C890.6,491.2 906.3,474.8 916.0,465.7 C925.7,456.6 931.8,451.3 936.3,449.2 C940.8,447.1 942.3,450.2 942.7,453.0 C943.1,455.8 943.4,459.3 938.9,465.7 C934.4,472.1 925.3,480.2 916.0,491.2 C906.7,502.2 891.0,519.9 883.0,531.8 C875.0,543.6 871.7,551.3 867.7,562.3 C863.7,573.3 860.1,585.6 858.8,597.9 C857.5,610.2 859.6,625.6 860.1,636.0 C860.6,646.4 860.8,651.4 861.8,660.0 C862.8,668.6 863.8,677.4 865.9,687.4 C868.0,697.4 872.7,708.8 874.1,720.2 C875.5,731.6 872.3,745.8 874.1,755.8 C875.9,765.8 881.4,770.8 885.0,780.4 C888.6,790.0 892.8,802.3 896.0,813.3 C899.2,824.2 900.1,835.6 904.2,846.1 C908.3,856.6 913.8,866.2 920.6,876.2 C927.5,886.2 938.7,897.6 945.3,906.3 C951.9,915.0 958.5,923.2 960.3,928.2 C962.1,933.2 959.2,936.4 956.2,936.4 C953.2,936.4 948.9,935.0 942.5,928.2 C936.1,921.4 925.6,905.4 917.9,895.4 C910.1,885.4 902.9,877.1 896.0,868.0 C889.1,858.9 881.4,849.7 876.8,840.6 C872.2,831.5 873.1,819.2 868.6,813.3 C864.1,807.4 857.2,807.8 849.5,805.0 C841.8,802.2 830.4,799.2 822.1,796.8 C813.9,794.4 807.7,793.5 800.0,790.8 C792.3,788.1 783.2,782.9 775.8,780.5 C768.3,778.1 760.5,776.9 755.3,776.4 C750.0,775.9 747.3,776.6 744.3,777.8 C741.3,778.9 738.9,780.6 737.5,783.3 C736.1,786.0 736.5,786.7 736.1,794.2 C735.8,801.7 735.5,815.9 735.4,828.4 C735.3,840.9 735.7,859.9 735.4,869.5 C735.1,879.1 734.5,882.5 733.4,885.9 C732.3,889.3 730.0,891.1 728.6,890.0 C727.2,888.9 726.5,884.7 725.2,879.0 C723.9,873.3 723.3,863.3 721.0,855.8 C718.7,848.3 715.6,840.8 711.5,833.9 C707.4,827.0 701.6,820.3 696.4,814.7 C691.1,809.1 685.1,804.6 680.0,800.4 C674.9,796.2 670.6,791.6 666.0,789.5 C661.4,787.4 659.0,788.9 652.5,788.0 C646.0,787.1 636.4,786.1 627.1,784.2 C617.8,782.3 609.3,774.9 596.6,776.6 C583.9,778.3 564.4,788.9 550.8,794.4 C537.2,799.9 522.2,807.3 515.2,809.6 C508.2,811.9 509.9,808.5 508.9,808.3 C511.6,806.0 518.4,800.1 525.4,794.4 C532.4,788.7 542.8,782.0 550.8,774.0 C558.8,766.0 567.8,756.3 573.7,746.1 C579.6,735.9 582.4,724.0 586.4,713.0 C590.4,702.0 594.6,689.1 597.8,680.0 C601.0,670.9 604.0,666.1 605.5,658.2 C607.0,650.3 606.1,640.0 606.7,632.8 C607.3,625.6 607.2,620.9 609.3,615.0 C611.4,609.1 616.9,604.4 619.4,597.2 C621.9,590.0 623.0,580.3 624.5,571.8 C626.0,563.3 628.1,554.0 628.3,546.4 C628.5,538.8 626.4,532.5 625.8,526.1 C625.2,519.8 627.0,515.6 624.5,508.3 C622.0,500.9 613.9,490.7 611.0,482.0 C608.1,473.3 608.2,465.2 606.9,456.0 C605.6,446.8 603.3,436.4 603.0,426.6 C602.7,416.8 605.0,406.1 605.0,397.3 C605.0,388.5 605.3,382.6 603.0,373.8 C600.7,365.0 595.2,353.6 591.3,344.5 C587.4,335.4 581.7,325.9 579.6,319.1 C577.5,312.3 577.0,308.1 578.6,303.5 C580.2,298.9 585.9,293.0 589.3,291.7Z" fill="#e8eafb"/>
<g clip-path="url(#c2)">
<path d="M648.0,440.0 C650.3,426.0 667.3,436.0 676.0,446.0 C684.7,456.0 688.5,483.5 700.0,500.0 C711.5,516.5 728.3,537.0 745.0,545.0 C761.7,553.0 779.2,553.5 800.0,548.0 C820.8,542.5 852.5,521.7 870.0,512.0 C887.5,502.3 903.3,485.3 905.0,490.0 C906.7,494.7 890.0,523.3 880.0,540.0 C870.0,556.7 854.2,571.7 845.0,590.0 C835.8,608.3 828.8,631.7 825.0,650.0 C821.2,668.3 825.3,684.2 822.0,700.0 C818.7,715.8 812.0,734.2 805.0,745.0 C798.0,755.8 790.0,760.5 780.0,765.0 C770.0,769.5 753.3,767.5 745.0,772.0 C736.7,776.5 735.5,788.7 730.0,792.0 C724.5,795.3 716.2,797.3 712.0,792.0 C707.8,786.7 707.0,770.7 705.0,760.0 C703.0,749.3 707.5,733.0 700.0,728.0 C692.5,723.0 673.3,726.3 660.0,730.0 C646.7,733.7 632.5,744.0 620.0,750.0 C607.5,756.0 583.3,769.7 585.0,766.0 C586.7,762.3 616.2,739.0 630.0,728.0 C643.8,717.0 661.7,717.2 668.0,700.0 C674.3,682.8 669.0,653.3 668.0,625.0 C667.0,596.7 665.3,560.8 662.0,530.0 C658.7,499.2 645.7,454.0 648.0,440.0Z" fill="#dde1f9"/>
<circle cx="740.7" cy="636.7" r="62" fill="#d0d7f7"/>
<ellipse cx="647.7" cy="537.3" rx="10.8" ry="45.5" fill="#fff" transform="rotate(3 647.7 537.3)"/>
<ellipse cx="639" cy="617" rx="6" ry="21" fill="#fff" transform="rotate(12 639 617)"/>
<ellipse cx="634" cy="673" rx="4.5" ry="13" fill="#fff"/>
<g fill="#9aa8f1" fill-opacity="0.68">
<circle cx="659.7" cy="452.0" r="5.7"/>
<circle cx="666.5" cy="466.0" r="5.7"/>
<circle cx="675.5" cy="496.7" r="5.7"/>
<circle cx="679.4" cy="521.0" r="5.7"/>
<circle cx="674.1" cy="527.2" r="5.7"/>
<circle cx="696.3" cy="518.8" r="5.7"/>
<circle cx="687.7" cy="542.1" r="5.7"/>
<circle cx="700.7" cy="542.6" r="5.7"/>
<circle cx="697.1" cy="562.6" r="5.7"/>
<circle cx="684.9" cy="576.2" r="5.7"/>
<circle cx="725.2" cy="562.4" r="5.7"/>
<circle cx="742.4" cy="570.7" r="5.7"/>
<circle cx="736.2" cy="567.6" r="5.7"/>
<circle cx="734.6" cy="578.5" r="5.7"/>
<circle cx="756.0" cy="566.0" r="5.7"/>
<circle cx="775.8" cy="565.7" r="5.7"/>
<circle cx="788.6" cy="572.3" r="5.7"/>
<circle cx="794.0" cy="573.8" r="5.7"/>
<circle cx="774.5" cy="577.7" r="5.7"/>
<circle cx="711.9" cy="582.4" r="5.7"/>
<circle cx="716.6" cy="589.5" r="5.7"/>
<circle cx="762.0" cy="583.2" r="5.7"/>
<circle cx="785.4" cy="592.6" r="5.7"/>
<circle cx="659.5" cy="597.3" r="5.7"/>
<circle cx="680.7" cy="596.5" r="5.7"/>
<circle cx="696.3" cy="596.5" r="5.7"/>
<circle cx="680.0" cy="616.0" r="5.7"/>
<circle cx="667.1" cy="635.5" r="5.7"/>
<circle cx="686.6" cy="634.7" r="5.7"/>
<circle cx="656.9" cy="651.2" r="5.7"/>
<circle cx="673.3" cy="653.5" r="5.7"/>
<circle cx="679.6" cy="662.1" r="5.7"/>
<circle cx="694.5" cy="669.1" r="5.7"/>
<circle cx="689.8" cy="680.1" r="5.7"/>
<circle cx="680.4" cy="684.0" r="5.7"/>
<circle cx="656.9" cy="685.6" r="5.7"/>
<circle cx="710.1" cy="684.8" r="5.7"/>
<circle cx="719.5" cy="687.9" r="5.7"/>
<circle cx="702.3" cy="695.0" r="5.7"/>
<circle cx="714.8" cy="696.5" r="5.7"/>
<circle cx="740.6" cy="694.2" r="5.7"/>
<circle cx="711.7" cy="582.3" r="5.7"/>
<circle cx="717.9" cy="587.8" r="5.7"/>
<circle cx="709.7" cy="685.0" r="5.7"/>
<circle cx="720.2" cy="687.6" r="5.7"/>
<circle cx="703.5" cy="695.5" r="5.7"/>
<circle cx="714.1" cy="700.8" r="5.7"/>
<circle cx="722.9" cy="706.1" r="5.7"/>
<circle cx="703.5" cy="712.2" r="5.7"/>
<circle cx="751.0" cy="707.8" r="5.7"/>
<circle cx="775.7" cy="686.7" r="5.7"/>
<circle cx="782.7" cy="692.0" r="5.7"/>
<circle cx="805.6" cy="690.2" r="5.7"/>
<circle cx="791.5" cy="707.8" r="5.7"/>
<circle cx="779.2" cy="707.0" r="5.7"/>
<circle cx="770.4" cy="711.4" r="5.7"/>
<circle cx="740.5" cy="720.1" r="5.7"/>
<circle cx="755.4" cy="721.0" r="5.7"/>
<circle cx="772.1" cy="722.8" r="5.7"/>
<circle cx="723.8" cy="725.4" r="5.7"/>
<circle cx="731.7" cy="734.2" r="5.7"/>
<circle cx="744.0" cy="730.7" r="5.7"/>
<circle cx="752.8" cy="738.6" r="5.7"/>
<circle cx="761.6" cy="729.8" r="5.7"/>
<circle cx="773.0" cy="737.7" r="5.7"/>
<circle cx="791.5" cy="731.6" r="5.7"/>
<circle cx="707.0" cy="741.3" r="5.7"/>
<circle cx="824.1" cy="701.7" r="5.7"/>
<circle cx="832.0" cy="720.1" r="5.7"/>
<circle cx="817.9" cy="741.3" r="5.7"/>
<circle cx="841.7" cy="743.9" r="5.7"/>
<circle cx="855.7" cy="743.0" r="5.7"/>
<circle cx="840.8" cy="757.1" r="5.7"/>
<circle cx="714.1" cy="789.0" r="5.7"/>
<circle cx="840.6" cy="557.8" r="5.7"/>
<circle cx="775.6" cy="565.3" r="5.7"/>
<circle cx="792.0" cy="574.2" r="5.7"/>
<circle cx="742.7" cy="571.5" r="5.7"/>
<circle cx="774.9" cy="579.0" r="5.7"/>
<circle cx="761.9" cy="583.8" r="5.7"/>
<circle cx="827.6" cy="579.0" r="5.7"/>
<circle cx="785.8" cy="592.7" r="5.7"/>
<circle cx="799.5" cy="598.2" r="5.7"/>
<circle cx="814.6" cy="596.8" r="5.7"/>
<circle cx="822.8" cy="607.1" r="5.7"/>
<circle cx="835.8" cy="615.3" r="5.7"/>
<circle cx="792.0" cy="622.1" r="5.7"/>
<circle cx="794.7" cy="640.6" r="5.7"/>
<circle cx="826.2" cy="638.5" r="5.7"/>
<circle cx="792.0" cy="661.8" r="5.7"/>
<circle cx="805.7" cy="665.2" r="5.7"/>
<circle cx="826.9" cy="657.0" r="5.7"/>
<circle cx="834.4" cy="663.2" r="5.7"/>
<circle cx="608.9" cy="715.2" r="5.7"/>
<circle cx="634.0" cy="713.6" r="5.7"/>
<circle cx="677.7" cy="707.4" r="5.7"/>
<circle cx="701.2" cy="712.8" r="5.7"/>
<circle cx="702.0" cy="695.6" r="5.7"/>
<circle cx="713.7" cy="700.3" r="5.7"/>
<circle cx="723.1" cy="705.8" r="5.7"/>
<circle cx="597.2" cy="739.4" r="5.7"/>
<circle cx="673.5" cy="747.3" r="5.7"/>
<circle cx="707.5" cy="741.0" r="5.7"/>
<circle cx="723.9" cy="724.6" r="5.7"/>
<circle cx="731.7" cy="734.0" r="5.7"/>
<circle cx="738.0" cy="720.7" r="5.7"/>
<circle cx="680.1" cy="687.0" r="5.7"/>
<circle cx="691.0" cy="682.3" r="5.7"/>
</g>
</g>
<path d="M589.3,291.7 C592.7,290.4 595.2,290.7 599.1,295.6 C603.0,300.5 607.3,310.7 612.8,321.1 C618.3,331.5 625.8,346.8 632.3,358.2 C638.8,369.6 645.7,379.7 651.9,389.5 C658.1,399.3 663.6,408.1 669.5,416.9 C675.4,425.7 681.2,434.2 687.1,442.3 C693.0,450.4 700.0,460.1 704.7,465.7 C709.4,471.3 710.9,472.9 715.2,475.9 C719.5,478.9 725.8,483.9 730.5,483.5 C735.2,483.1 739.4,477.6 743.2,473.4 C747.0,469.2 750.0,461.1 753.4,458.1 C756.8,455.1 760.8,454.3 763.5,455.6 C766.2,456.9 769.0,459.8 769.9,465.7 C770.8,471.6 770.1,482.7 768.6,491.2 C767.1,499.7 761.9,510.7 761.0,516.6 C760.1,522.5 760.3,525.9 763.5,526.7 C766.7,527.6 777.2,522.5 780.0,521.7 C780.6,524.2 781.6,531.4 783.9,536.9 C786.2,542.4 789.8,551.3 794.0,554.7 C798.2,558.1 801.7,559.3 809.3,557.2 C816.9,555.1 828.4,550.9 839.8,542.0 C851.2,533.1 865.2,516.6 877.9,503.9 C890.6,491.2 906.3,474.8 916.0,465.7 C925.7,456.6 931.8,451.3 936.3,449.2 C940.8,447.1 942.3,450.2 942.7,453.0 C943.1,455.8 943.4,459.3 938.9,465.7 C934.4,472.1 925.3,480.2 916.0,491.2 C906.7,502.2 891.0,519.9 883.0,531.8 C875.0,543.6 871.7,551.3 867.7,562.3 C863.7,573.3 860.1,585.6 858.8,597.9 C857.5,610.2 859.6,625.6 860.1,636.0 C860.6,646.4 860.8,651.4 861.8,660.0 C862.8,668.6 863.8,677.4 865.9,687.4 C868.0,697.4 872.7,708.8 874.1,720.2 C875.5,731.6 872.3,745.8 874.1,755.8 C875.9,765.8 881.4,770.8 885.0,780.4 C888.6,790.0 892.8,802.3 896.0,813.3 C899.2,824.2 900.1,835.6 904.2,846.1 C908.3,856.6 913.8,866.2 920.6,876.2 C927.5,886.2 938.7,897.6 945.3,906.3 C951.9,915.0 958.5,923.2 960.3,928.2 C962.1,933.2 959.2,936.4 956.2,936.4 C953.2,936.4 948.9,935.0 942.5,928.2 C936.1,921.4 925.6,905.4 917.9,895.4 C910.1,885.4 902.9,877.1 896.0,868.0 C889.1,858.9 881.4,849.7 876.8,840.6 C872.2,831.5 873.1,819.2 868.6,813.3 C864.1,807.4 857.2,807.8 849.5,805.0 C841.8,802.2 830.4,799.2 822.1,796.8 C813.9,794.4 807.7,793.5 800.0,790.8 C792.3,788.1 783.2,782.9 775.8,780.5 C768.3,778.1 760.5,776.9 755.3,776.4 C750.0,775.9 747.3,776.6 744.3,777.8 C741.3,778.9 738.9,780.6 737.5,783.3 C736.1,786.0 736.5,786.7 736.1,794.2 C735.8,801.7 735.5,815.9 735.4,828.4 C735.3,840.9 735.7,859.9 735.4,869.5 C735.1,879.1 734.5,882.5 733.4,885.9 C732.3,889.3 730.0,891.1 728.6,890.0 C727.2,888.9 726.5,884.7 725.2,879.0 C723.9,873.3 723.3,863.3 721.0,855.8 C718.7,848.3 715.6,840.8 711.5,833.9 C707.4,827.0 701.6,820.3 696.4,814.7 C691.1,809.1 685.1,804.6 680.0,800.4 C674.9,796.2 670.6,791.6 666.0,789.5 C661.4,787.4 659.0,788.9 652.5,788.0 C646.0,787.1 636.4,786.1 627.1,784.2 C617.8,782.3 609.3,774.9 596.6,776.6 C583.9,778.3 564.4,788.9 550.8,794.4 C537.2,799.9 522.2,807.3 515.2,809.6 C508.2,811.9 509.9,808.5 508.9,808.3 C511.6,806.0 518.4,800.1 525.4,794.4 C532.4,788.7 542.8,782.0 550.8,774.0 C558.8,766.0 567.8,756.3 573.7,746.1 C579.6,735.9 582.4,724.0 586.4,713.0 C590.4,702.0 594.6,689.1 597.8,680.0 C601.0,670.9 604.0,666.1 605.5,658.2 C607.0,650.3 606.1,640.0 606.7,632.8 C607.3,625.6 607.2,620.9 609.3,615.0 C611.4,609.1 616.9,604.4 619.4,597.2 C621.9,590.0 623.0,580.3 624.5,571.8 C626.0,563.3 628.1,554.0 628.3,546.4 C628.5,538.8 626.4,532.5 625.8,526.1 C625.2,519.8 627.0,515.6 624.5,508.3 C622.0,500.9 613.9,490.7 611.0,482.0 C608.1,473.3 608.2,465.2 606.9,456.0 C605.6,446.8 603.3,436.4 603.0,426.6 C602.7,416.8 605.0,406.1 605.0,397.3 C605.0,388.5 605.3,382.6 603.0,373.8 C600.7,365.0 595.2,353.6 591.3,344.5 C587.4,335.4 581.7,325.9 579.6,319.1 C577.5,312.3 577.0,308.1 578.6,303.5 C580.2,298.9 585.9,293.0 589.3,291.7Z" fill="none" stroke="#6f7399" stroke-width="1.25" stroke-linejoin="round"/>
<circle cx="740.5" cy="636.6" r="50.5" fill="#f2d09c"/>
<g clip-path="url(#n2)">
<path d="M688,652 C690,653 700,658 709.3,658.3 C716,658.5 721,658 724.6,657.1 C727,656 728,655 729.3,654.8 C738,654 744,657 750.4,656 C760,654 768,648 773.8,640.7 C777,636 779,632 780.9,627.8 C782,625 782.5,623 783.2,619 L795,610 V700 H688Z" fill="#f0b171"/>
<path d="M700,611 C706,600 716,592 728,589 C738,587 746,588 752,590 C744,591 735,592 726,594 C714,598 706,604 700,611Z" fill="#fdf6ea"/>
<circle cx="756.2" cy="594.4" r="4" fill="#fdf6ea"/>
</g>
<circle cx="740.5" cy="636.6" r="50.5" fill="none" stroke="#7d82bd" stroke-width="1.8"/>
<g clip-path="url(#c1)"><g fill="none" stroke="#ffffff" stroke-opacity="0.28" stroke-width="1.6"><path d="M-175.7,-177.0L-77.9,-93.3 M-178.0,36.4L-77.9,122.0 M-178.0,14.3L-77.9,-71.3 M-175.7,253.6L-77.9,337.3 M-127.1,186.1L-77.9,144.0 M-178.0,467.0L-77.9,552.6 M-178.0,444.9L-77.9,359.3 M-175.7,684.2L-77.9,767.9 M-127.1,616.7L-77.9,574.6 M-178.0,897.6L-77.9,983.2 M-178.0,875.5L-77.9,789.9 M-175.7,1114.8L-77.9,1198.5 M-127.1,1047.3L-77.9,1005.2 M-52.0,-71.3L45.8,12.4 M-52.0,-93.3L48.1,-178.9 M-52.0,144.0L48.1,229.6 M-52.0,122.0L-2.8,79.9 M-52.0,359.3L45.8,443.0 M-52.0,337.3L48.1,251.7 M-52.0,574.6L48.1,660.2 M-52.0,552.6L-2.8,510.5 M-52.0,789.9L45.8,873.6 M-52.0,767.9L48.1,682.3 M-52.0,1005.2L48.1,1090.8 M-52.0,983.2L-2.8,941.1 M-52.0,1198.5L48.1,1112.9 M74.0,-178.9L174.1,-93.3 M76.2,38.3L174.1,122.0 M124.9,-29.2L174.1,-71.3 M74.0,251.7L174.1,337.3 M74.0,229.6L174.1,144.0 M76.2,468.9L174.1,552.6 M124.9,401.4L174.1,359.3 M74.0,682.3L174.1,767.9 M74.0,660.2L174.1,574.6 M76.2,899.5L174.1,983.2 M124.9,832.0L174.1,789.9 M74.0,1112.9L174.1,1198.5 M74.0,1090.8L174.1,1005.2 M199.9,-71.3L300.0,14.3 M199.9,-93.3L249.1,-135.4 M199.9,144.0L297.8,227.7 M199.9,122.0L300.0,36.4 M199.9,359.3L300.0,444.9 M199.9,337.3L249.1,295.2 M199.9,574.6L297.8,658.3 M199.9,552.6L300.0,467.0 M199.9,789.9L300.0,875.5 M199.9,767.9L249.1,725.8 M199.9,1005.2L297.8,1088.9 M199.9,983.2L300.0,897.6 M199.9,1198.5L249.1,1156.4 M328.2,-177.0L426.0,-93.3 M325.9,36.4L426.0,122.0 M325.9,14.3L426.0,-71.3 M328.2,253.6L426.0,337.3 M376.8,186.1L426.0,144.0 M325.9,467.0L426.0,552.6 M325.9,444.9L426.0,359.3 M328.2,684.2L426.0,767.9 M376.8,616.7L426.0,574.6 M325.9,897.6L426.0,983.2 M325.9,875.5L426.0,789.9 M328.2,1114.8L426.0,1198.5 M376.8,1047.3L426.0,1005.2 M451.9,-71.3L549.7,12.4 M451.9,-93.3L552.0,-178.9 M451.9,144.0L552.0,229.6 M451.9,122.0L501.1,79.9 M451.9,359.3L549.7,443.0 M451.9,337.3L552.0,251.7 M451.9,574.6L552.0,660.2 M451.9,552.6L501.1,510.5 M451.9,789.9L549.7,873.6 M451.9,767.9L552.0,682.3 M451.9,1005.2L552.0,1090.8 M451.9,983.2L501.1,941.1 M451.9,1198.5L552.0,1112.9 M577.8,-178.9L678.0,-93.3 M580.1,38.3L678.0,122.0 M628.8,-29.2L678.0,-71.3 M577.8,251.7L678.0,337.3 M577.8,229.6L678.0,144.0 M580.1,468.9L678.0,552.6 M628.8,401.4L678.0,359.3 M577.8,682.3L678.0,767.9 M577.8,660.2L678.0,574.6 M580.1,899.5L678.0,983.2 M628.8,832.0L678.0,789.9 M577.8,1112.9L678.0,1198.5 M577.8,1090.8L678.0,1005.2 M703.8,-71.3L803.9,14.3 M703.8,-93.3L753.0,-135.4 M703.8,144.0L801.6,227.7 M703.8,122.0L803.9,36.4 M703.8,359.3L803.9,444.9 M703.8,337.3L753.0,295.2 M703.8,574.6L801.6,658.3 M703.8,552.6L803.9,467.0 M703.8,789.9L803.9,875.5 M703.8,767.9L753.0,725.8 M703.8,1005.2L801.6,1088.9 M703.8,983.2L803.9,897.6 M703.8,1198.5L753.0,1156.4 M832.1,-177.0L929.9,-93.3 M829.8,36.4L929.9,122.0 M829.8,14.3L929.9,-71.3 M832.1,253.6L929.9,337.3 M880.7,186.1L929.9,144.0 M829.8,467.0L929.9,552.6 M829.8,444.9L929.9,359.3 M832.1,684.2L929.9,767.9 M880.7,616.7L929.9,574.6 M829.8,897.6L929.9,983.2 M829.8,875.5L929.9,789.9 M832.1,1114.8L929.9,1198.5 M880.7,1047.3L929.9,1005.2 M955.7,-71.3L1053.6,12.4 M955.7,-93.3L1055.9,-178.9 M955.7,144.0L1055.9,229.6 M955.7,122.0L1004.9,79.9 M955.7,359.3L1053.6,443.0 M955.7,337.3L1055.9,251.7 M955.7,574.6L1055.9,660.2 M955.7,552.6L1004.9,510.5 M955.7,789.9L1053.6,873.6 M955.7,767.9L1055.9,682.3 M955.7,1005.2L1055.9,1090.8 M955.7,983.2L1004.9,941.1 M955.7,1198.5L1055.9,1112.9 M1081.7,-178.9L1181.8,-93.3 M1084.0,38.3L1181.8,122.0 M1132.6,-29.2L1181.8,-71.3 M1081.7,251.7L1181.8,337.3 M1081.7,229.6L1181.8,144.0 M1084.0,468.9L1181.8,552.6 M1132.6,401.4L1181.8,359.3 M1081.7,682.3L1181.8,767.9 M1081.7,660.2L1181.8,574.6 M1084.0,899.5L1181.8,983.2 M1132.6,832.0L1181.8,789.9 M1081.7,1112.9L1181.8,1198.5 M1081.7,1090.8L1181.8,1005.2"/></g>
<g fill="none" stroke="#ffffff" stroke-opacity="0.55" stroke-width="1.6" font-family="Liberation Sans" font-size="21" font-weight="bold"><text x="0" y="0" transform="translate(61.0,25.3) rotate(-40.52)" text-anchor="middle" dominant-baseline="middle" textLength="160" lengthAdjust="spacingAndGlyphs">depositphotos</text><text x="0" y="0" transform="translate(61.0,456.0) rotate(-40.52)" text-anchor="middle" dominant-baseline="middle" textLength="160" lengthAdjust="spacingAndGlyphs">depositphotos</text><text x="0" y="0" transform="translate(61.0,886.6) rotate(-40.52)" text-anchor="middle" dominant-baseline="middle" textLength="160" lengthAdjust="spacingAndGlyphs">depositphotos</text><text x="0" y="0" transform="translate(313.0,240.7) rotate(-40.52)" text-anchor="middle" dominant-baseline="middle" textLength="160" lengthAdjust="spacingAndGlyphs">depositphotos</text><text x="0" y="0" transform="translate(313.0,671.2) rotate(-40.52)" text-anchor="middle" dominant-baseline="middle" textLength="160" lengthAdjust="spacingAndGlyphs">depositphotos</text><text x="0" y="0" transform="translate(313.0,1101.8) rotate(-40.52)" text-anchor="middle" dominant-baseline="middle" textLength="160" lengthAdjust="spacingAndGlyphs">depositphotos</text><text x="0" y="0" transform="translate(564.9,25.3) rotate(-40.52)" text-anchor="middle" dominant-baseline="middle" textLength="160" lengthAdjust="spacingAndGlyphs">depositphotos</text><text x="0" y="0" transform="translate(564.9,456.0) rotate(-40.52)" text-anchor="middle" dominant-baseline="middle" textLength="160" lengthAdjust="spacingAndGlyphs">depositphotos</text><text x="0" y="0" transform="translate(564.9,886.6) rotate(-40.52)" text-anchor="middle" dominant-baseline="middle" textLength="160" lengthAdjust="spacingAndGlyphs">depositphotos</text><text x="0" y="0" transform="translate(816.9,240.7) rotate(-40.52)" text-anchor="middle" dominant-baseline="middle" textLength="160" lengthAdjust="spacingAndGlyphs">depositphotos</text><text x="0" y="0" transform="translate(816.9,671.2) rotate(-40.52)" text-anchor="middle" dominant-baseline="middle" textLength="160" lengthAdjust="spacingAndGlyphs">depositphotos</text><text x="0" y="0" transform="translate(816.9,1101.8) rotate(-40.52)" text-anchor="middle" dominant-baseline="middle" textLength="160" lengthAdjust="spacingAndGlyphs">depositphotos</text><text x="0" y="0" transform="translate(1068.8,25.3) rotate(-40.52)" text-anchor="middle" dominant-baseline="middle" textLength="160" lengthAdjust="spacingAndGlyphs">depositphotos</text><text x="0" y="0" transform="translate(1068.8,456.0) rotate(-40.52)" text-anchor="middle" dominant-baseline="middle" textLength="160" lengthAdjust="spacingAndGlyphs">depositphotos</text><text x="0" y="0" transform="translate(1068.8,886.6) rotate(-40.52)" text-anchor="middle" dominant-baseline="middle" textLength="160" lengthAdjust="spacingAndGlyphs">depositphotos</text></g></g>
<g clip-path="url(#c2)"><g fill="none" stroke="#ffffff" stroke-opacity="0.28" stroke-width="1.6"><path d="M-175.7,-177.0L-77.9,-93.3 M-178.0,36.4L-77.9,122.0 M-178.0,14.3L-77.9,-71.3 M-175.7,253.6L-77.9,337.3 M-127.1,186.1L-77.9,144.0 M-178.0,467.0L-77.9,552.6 M-178.0,444.9L-77.9,359.3 M-175.7,684.2L-77.9,767.9 M-127.1,616.7L-77.9,574.6 M-178.0,897.6L-77.9,983.2 M-178.0,875.5L-77.9,789.9 M-175.7,1114.8L-77.9,1198.5 M-127.1,1047.3L-77.9,1005.2 M-52.0,-71.3L45.8,12.4 M-52.0,-93.3L48.1,-178.9 M-52.0,144.0L48.1,229.6 M-52.0,122.0L-2.8,79.9 M-52.0,359.3L45.8,443.0 M-52.0,337.3L48.1,251.7 M-52.0,574.6L48.1,660.2 M-52.0,552.6L-2.8,510.5 M-52.0,789.9L45.8,873.6 M-52.0,767.9L48.1,682.3 M-52.0,1005.2L48.1,1090.8 M-52.0,983.2L-2.8,941.1 M-52.0,1198.5L48.1,1112.9 M74.0,-178.9L174.1,-93.3 M76.2,38.3L174.1,122.0 M124.9,-29.2L174.1,-71.3 M74.0,251.7L174.1,337.3 M74.0,229.6L174.1,144.0 M76.2,468.9L174.1,552.6 M124.9,401.4L174.1,359.3 M74.0,682.3L174.1,767.9 M74.0,660.2L174.1,574.6 M76.2,899.5L174.1,983.2 M124.9,832.0L174.1,789.9 M74.0,1112.9L174.1,1198.5 M74.0,1090.8L174.1,1005.2 M199.9,-71.3L300.0,14.3 M199.9,-93.3L249.1,-135.4 M199.9,144.0L297.8,227.7 M199.9,122.0L300.0,36.4 M199.9,359.3L300.0,444.9 M199.9,337.3L249.1,295.2 M199.9,574.6L297.8,658.3 M199.9,552.6L300.0,467.0 M199.9,789.9L300.0,875.5 M199.9,767.9L249.1,725.8 M199.9,1005.2L297.8,1088.9 M199.9,983.2L300.0,897.6 M199.9,1198.5L249.1,1156.4 M328.2,-177.0L426.0,-93.3 M325.9,36.4L426.0,122.0 M325.9,14.3L426.0,-71.3 M328.2,253.6L426.0,337.3 M376.8,186.1L426.0,144.0 M325.9,467.0L426.0,552.6 M325.9,444.9L426.0,359.3 M328.2,684.2L426.0,767.9 M376.8,616.7L426.0,574.6 M325.9,897.6L426.0,983.2 M325.9,875.5L426.0,789.9 M328.2,1114.8L426.0,1198.5 M376.8,1047.3L426.0,1005.2 M451.9,-71.3L549.7,12.4 M451.9,-93.3L552.0,-178.9 M451.9,144.0L552.0,229.6 M451.9,122.0L501.1,79.9 M451.9,359.3L549.7,443.0 M451.9,337.3L552.0,251.7 M451.9,574.6L552.0,660.2 M451.9,552.6L501.1,510.5 M451.9,789.9L549.7,873.6 M451.9,767.9L552.0,682.3 M451.9,1005.2L552.0,1090.8 M451.9,983.2L501.1,941.1 M451.9,1198.5L552.0,1112.9 M577.8,-178.9L678.0,-93.3 M580.1,38.3L678.0,122.0 M628.8,-29.2L678.0,-71.3 M577.8,251.7L678.0,337.3 M577.8,229.6L678.0,144.0 M580.1,468.9L678.0,552.6 M628.8,401.4L678.0,359.3 M577.8,682.3L678.0,767.9 M577.8,660.2L678.0,574.6 M580.1,899.5L678.0,983.2 M628.8,832.0L678.0,789.9 M577.8,1112.9L678.0,1198.5 M577.8,1090.8L678.0,1005.2 M703.8,-71.3L803.9,14.3 M703.8,-93.3L753.0,-135.4 M703.8,144.0L801.6,227.7 M703.8,122.0L803.9,36.4 M703.8,359.3L803.9,444.9 M703.8,337.3L753.0,295.2 M703.8,574.6L801.6,658.3 M703.8,552.6L803.9,467.0 M703.8,789.9L803.9,875.5 M703.8,767.9L753.0,725.8 M703.8,1005.2L801.6,1088.9 M703.8,983.2L803.9,897.6 M703.8,1198.5L753.0,1156.4 M832.1,-177.0L929.9,-93.3 M829.8,36.4L929.9,122.0 M829.8,14.3L929.9,-71.3 M832.1,253.6L929.9,337.3 M880.7,186.1L929.9,144.0 M829.8,467.0L929.9,552.6 M829.8,444.9L929.9,359.3 M832.1,684.2L929.9,767.9 M880.7,616.7L929.9,574.6 M829.8,897.6L929.9,983.2 M829.8,875.5L929.9,789.9 M832.1,1114.8L929.9,1198.5 M880.7,1047.3L929.9,1005.2 M955.7,-71.3L1053.6,12.4 M955.7,-93.3L1055.9,-178.9 M955.7,144.0L1055.9,229.6 M955.7,122.0L1004.9,79.9 M955.7,359.3L1053.6,443.0 M955.7,337.3L1055.9,251.7 M955.7,574.6L1055.9,660.2 M955.7,552.6L1004.9,510.5 M955.7,789.9L1053.6,873.6 M955.7,767.9L1055.9,682.3 M955.7,1005.2L1055.9,1090.8 M955.7,983.2L1004.9,941.1 M955.7,1198.5L1055.9,1112.9 M1081.7,-178.9L1181.8,-93.3 M1084.0,38.3L1181.8,122.0 M1132.6,-29.2L1181.8,-71.3 M1081.7,251.7L1181.8,337.3 M1081.7,229.6L1181.8,144.0 M1084.0,468.9L1181.8,552.6 M1132.6,401.4L1181.8,359.3 M1081.7,682.3L1181.8,767.9 M1081.7,660.2L1181.8,574.6 M1084.0,899.5L1181.8,983.2 M1132.6,832.0L1181.8,789.9 M1081.7,1112.9L1181.8,1198.5 M1081.7,1090.8L1181.8,1005.2"/></g>
<g fill="none" stroke="#ffffff" stroke-opacity="0.55" stroke-width="1.6" font-family="Liberation Sans" font-size="21" font-weight="bold"><text x="0" y="0" transform="translate(61.0,25.3) rotate(-40.52)" text-anchor="middle" dominant-baseline="middle" textLength="160" lengthAdjust="spacingAndGlyphs">depositphotos</text><text x="0" y="0" transform="translate(61.0,456.0) rotate(-40.52)" text-anchor="middle" dominant-baseline="middle" textLength="160" lengthAdjust="spacingAndGlyphs">depositphotos</text><text x="0" y="0" transform="translate(61.0,886.6) rotate(-40.52)" text-anchor="middle" dominant-baseline="middle" textLength="160" lengthAdjust="spacingAndGlyphs">depositphotos</text><text x="0" y="0" transform="translate(313.0,240.7) rotate(-40.52)" text-anchor="middle" dominant-baseline="middle" textLength="160" lengthAdjust="spacingAndGlyphs">depositphotos</text><text x="0" y="0" transform="translate(313.0,671.2) rotate(-40.52)" text-anchor="middle" dominant-baseline="middle" textLength="160" lengthAdjust="spacingAndGlyphs">depositphotos</text><text x="0" y="0" transform="translate(313.0,1101.8) rotate(-40.52)" text-anchor="middle" dominant-baseline="middle" textLength="160" lengthAdjust="spacingAndGlyphs">depositphotos</text><text x="0" y="0" transform="translate(564.9,25.3) rotate(-40.52)" text-anchor="middle" dominant-baseline="middle" textLength="160" lengthAdjust="spacingAndGlyphs">depositphotos</text><text x="0" y="0" transform="translate(564.9,456.0) rotate(-40.52)" text-anchor="middle" dominant-baseline="middle" textLength="160" lengthAdjust="spacingAndGlyphs">depositphotos</text><text x="0" y="0" transform="translate(564.9,886.6) rotate(-40.52)" text-anchor="middle" dominant-baseline="middle" textLength="160" lengthAdjust="spacingAndGlyphs">depositphotos</text><text x="0" y="0" transform="translate(816.9,240.7) rotate(-40.52)" text-anchor="middle" dominant-baseline="middle" textLength="160" lengthAdjust="spacingAndGlyphs">depositphotos</text><text x="0" y="0" transform="translate(816.9,671.2) rotate(-40.52)" text-anchor="middle" dominant-baseline="middle" textLength="160" lengthAdjust="spacingAndGlyphs">depositphotos</text><text x="0" y="0" transform="translate(816.9,1101.8) rotate(-40.52)" text-anchor="middle" dominant-baseline="middle" textLength="160" lengthAdjust="spacingAndGlyphs">depositphotos</text><text x="0" y="0" transform="translate(1068.8,25.3) rotate(-40.52)" text-anchor="middle" dominant-baseline="middle" textLength="160" lengthAdjust="spacingAndGlyphs">depositphotos</text><text x="0" y="0" transform="translate(1068.8,456.0) rotate(-40.52)" text-anchor="middle" dominant-baseline="middle" textLength="160" lengthAdjust="spacingAndGlyphs">depositphotos</text><text x="0" y="0" transform="translate(1068.8,886.6) rotate(-40.52)" text-anchor="middle" dominant-baseline="middle" textLength="160" lengthAdjust="spacingAndGlyphs">depositphotos</text></g></g>
<!-- leader -->
<path d="M661.3,451 V365.5 H688" fill="none" stroke="#606060" stroke-width="1.2"/>
<circle cx="661.3" cy="451" r="1.8" fill="#000"/>
</svg>
<div class="t" id="title" style="left:148.9px;top:72.7px;font-size:61.5px;transform:scaleX(0.953);">CELLULAR SENESCENCE</div>
<div class="t" id="l1" style="left:141.7px;top:935.9px;font-size:35px;transform:scaleX(0.8122);">Normal fibroblast</div>
<div class="t" id="l2" style="left:576.8px;top:935.9px;font-size:35px;transform:scaleX(0.8112);">Cell senescence in aging</div>
<div class="t" id="a1" style="left:694px;top:349.5px;font-size:28.6px;transform:scaleX(0.827);">Senescence-associated</div>
<div class="t" id="a2" style="left:736.1px;top:378.4px;font-size:28.5px;transform:scaleX(0.8314);">β-galactosidase</div>
</body></html>
